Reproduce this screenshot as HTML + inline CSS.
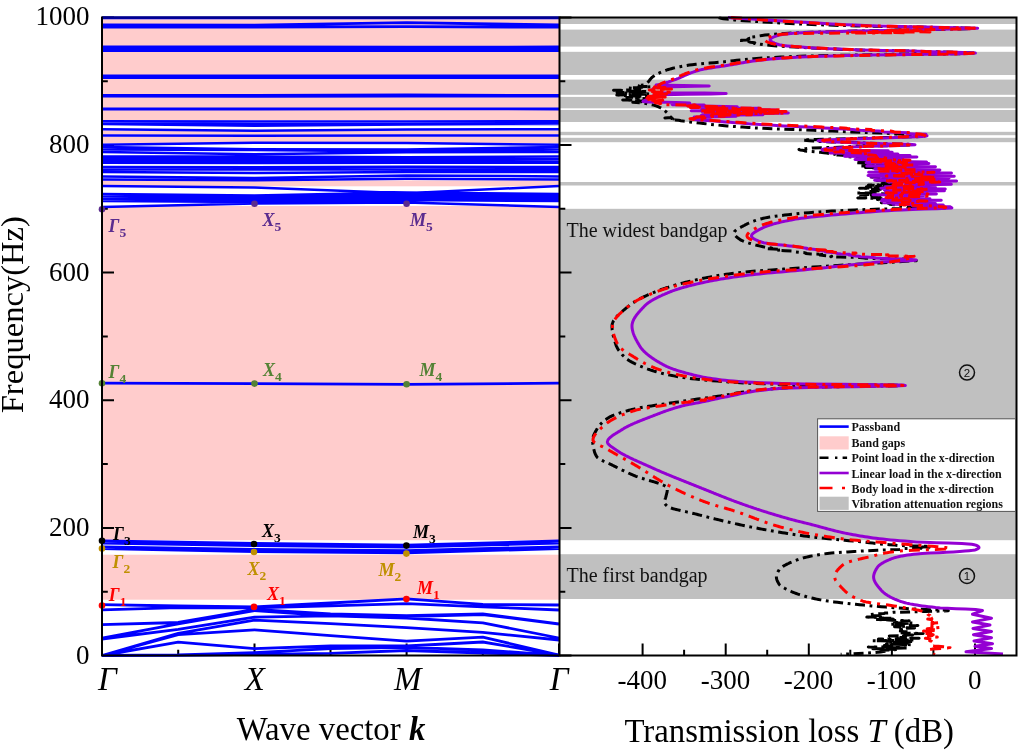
<!DOCTYPE html>
<html lang="en"><head><meta charset="utf-8"><title>Band structure and transmission loss</title>
<style>html,body{margin:0;padding:0;background:#fff}body{width:1025px;height:752px;overflow:hidden}svg{display:block}</style></head><body>
<svg width="1025" height="752" viewBox="0 0 1025 752">
<rect width="1025" height="752" fill="#fff"/>
<g id="left-panel">
<rect x="102" y="17.4" width="457.5" height="103.1" fill="#ffcccc"/>
<rect x="102" y="130.4" width="457.5" height="4.2" fill="#ffcccc"/>
<rect x="102" y="136.8" width="457.5" height="6.6" fill="#ffcccc"/>
<rect x="102" y="180.4" width="457.5" height="5.9" fill="#ffcccc"/>
<rect x="102" y="206" width="457.5" height="334.2" fill="#ffcccc"/>
<rect x="102" y="554.7" width="457.5" height="45" fill="#ffcccc"/>
<path id="ticks-left" d="M102 655.5 h12 M102 591.7 h5.8 M102 527.9 h12 M102 464.1 h5.8 M102 400.3 h12 M102 336.4 h5.8 M102 272.6 h12 M102 208.8 h5.8 M102 145 h12 M102 81.2 h5.8 M102 17.4 h12 M102 655.5 v-12 M178.2 655.5 v-5.8 M254.5 655.5 v-12 M330.5 655.5 v-5.8 M406.6 655.5 v-12 M482.8 655.5 v-5.8 M559 655.5 v-12" stroke="#000" stroke-width="2" fill="none"/>
<path d="M102 121.3 L254.5 121.4 L406.6 121.5 L559 121.3 M102 123.6 L254.5 124.3 L406.6 124.2 L559 123.6 M102 123.9 L254.5 125.8 L406.6 124.4 L559 123.9 M102 129.3 L254.5 130.8 L406.6 129.5 L559 129.3 M102 135.5 L254.5 135.7 L406.6 135.6 L559 135.5 M102 144.8 L254.5 142.8 L406.6 143 L559 144.8 M102 147 L254.5 149.2 L406.6 149.6 L559 147 M102 149.5 L254.5 150 L406.6 151.6 L559 149.5 M102 152 L254.5 154.3 L406.6 152.2 L559 152 M102 156.5 L254.5 156.5 L406.6 157.2 L559 156.5 M102 159 L254.5 159 L406.6 159.6 L559 159 M102 161.4 L254.5 161.5 L406.6 161.5 L559 161.4 M102 162.8 L254.5 162.9 L406.6 162.8 L559 162.8 M102 167.1 L254.5 167.2 L406.6 166.8 L559 167.1 M102 169.5 L254.5 169.6 L406.6 169.4 L559 169.5 M102 172 L254.5 173.1 L406.6 172 L559 172 M102 176.4 L254.5 178 L406.6 175.5 L559 176.4 M102 179.4 L254.5 180.3 L406.6 178.8 L559 179.4 M102 186 L254.5 187.6 L406.6 193.2 L559 186 M102 194 L254.5 195.5 L406.6 192.4 L559 194 M102 196.5 L254.5 197.8 L406.6 195 L559 196.5 M102 199 L254.5 200 L406.6 197.5 L559 199 M102 201 L254.5 202 L406.6 200 L559 201 M102 207 L254.5 203.4 L406.6 202.6 L559 207" fill="none" stroke="#0000ff" stroke-width="2.5" stroke-linejoin="round"/>
<path d="M102 17.8 L254.5 17.8 L406.6 17.8 L559 17.8 M102 25 L254.5 25.2 L406.6 22.6 L559 25 M102 27.2 L254.5 27 L406.6 26.6 L559 27.2 M102 47 L254.5 47 L406.6 47.2 L559 47 M102 48.9 L254.5 48.9 L406.6 48.9 L559 48.9 M102 50.7 L254.5 50.7 L406.6 50.5 L559 50.7 M102 75.8 L254.5 75.9 L406.6 76 L559 75.8 M102 77.7 L254.5 77.6 L406.6 77.5 L559 77.7 M102 95.5 L254.5 95.3 L406.6 95 L559 95.5 M102 96.2 L254.5 96.4 L406.6 96 L559 96.2 M102 109 L254.5 109 L406.6 108.8 L559 109 M102 383.2 L254.5 383.6 L406.6 384.3 L559 383.2 M102 541 L254.5 543.4 L406.6 545.2 L559 541 M102 543 L254.5 545.6 L406.6 547 L559 543 M102 546.8 L254.5 549.4 L406.6 550.6 L559 546.8 M102 548.6 L254.5 551.6 L406.6 552.8 L559 548.6 M102 604.7 L178.2 606 L254.5 607 L330.5 603 L406.6 598.8 L482.8 604.4 L559 605 M102 609.8 L178.2 607.6 L254.5 607.8 L330.5 605.8 L406.6 603.6 L482.8 606.8 L559 610 M102 624.6 L178.2 622.5 L254.5 609.5 L330.5 614 L406.6 615.6 L482.8 614 L559 623.8 M102 638.2 L178.2 623.8 L254.5 610.5 L330.5 615.8 L406.6 618 L482.8 622.8 L559 638 M102 639 L178.2 629.4 L254.5 617.2 L330.5 615.8 L406.6 616.5 L482.8 614.5 L559 624.2 M102 655.5 L178.2 633.4 L254.5 620.2 L330.5 623.6 L406.6 627.6 L482.8 632.4 L559 640 M102 655.5 L178.2 634.7 L254.5 629.8 L330.5 635.6 L406.6 641.2 L482.8 637.2 L559 655 M102 655.5 L178.2 642.2 L254.5 648.6 L330.5 646 L406.6 646 L482.8 642 L559 655 M102 655.5 L178.2 655 L254.5 652.6 L330.5 648.6 L406.6 647.4 L482.8 650 L559 655.3 M102 655.5 L178.2 655.4 L254.5 654.4 L330.5 653.4 L406.6 650.5 L482.8 653 L559 655.5" fill="none" stroke="#0000ff" stroke-width="2.8" stroke-linejoin="round"/>
<circle cx="102" cy="209.2" r="3.3" fill="#5b2c8f"/>
<circle cx="254.5" cy="203.8" r="3.3" fill="#5b2c8f"/>
<circle cx="406.6" cy="203.8" r="3.3" fill="#5b2c8f"/>
<circle cx="102" cy="383.2" r="3.3" fill="#548235"/>
<circle cx="254.5" cy="383.6" r="3.3" fill="#548235"/>
<circle cx="406.6" cy="384.3" r="3.3" fill="#548235"/>
<circle cx="102" cy="540.8" r="3.3" fill="#000000"/>
<circle cx="254" cy="544" r="3.3" fill="#000000"/>
<circle cx="406.4" cy="545.6" r="3.3" fill="#000000"/>
<circle cx="102" cy="548.6" r="3.3" fill="#bf9000"/>
<circle cx="254" cy="552" r="3.3" fill="#bf9000"/>
<circle cx="406.4" cy="553.6" r="3.3" fill="#bf9000"/>
<circle cx="102" cy="605.5" r="3.3" fill="#ff0000"/>
<circle cx="254" cy="606.9" r="3.3" fill="#ff0000"/>
<circle cx="406.4" cy="599.1" r="3.3" fill="#ff0000"/>
</g>
<g id="attenuation-regions">
<rect x="559.5" y="17" width="457" height="7" fill="#c0c0c0"/>
<rect x="559.5" y="29.6" width="457" height="17" fill="#c0c0c0"/>
<rect x="559.5" y="51.8" width="457" height="23.2" fill="#c0c0c0"/>
<rect x="559.5" y="79.6" width="457" height="15.2" fill="#c0c0c0"/>
<rect x="559.5" y="96.9" width="457" height="11.4" fill="#c0c0c0"/>
<rect x="559.5" y="110" width="457" height="12" fill="#c0c0c0"/>
<rect x="559.5" y="131.8" width="457" height="3.4" fill="#c0c0c0"/>
<rect x="559.5" y="137.8" width="457" height="4.4" fill="#c0c0c0"/>
<rect x="559.5" y="182" width="457" height="3.5" fill="#c0c0c0"/>
<rect x="559.5" y="208.8" width="457" height="331.4" fill="#c0c0c0"/>
<rect x="559.5" y="554.2" width="457" height="44.8" fill="#c0c0c0"/>
</g>
<path id="ticks-right" d="M559.5 655.5 h12 M559.5 591.7 h5.8 M559.5 527.9 h12 M559.5 464.1 h5.8 M559.5 400.3 h12 M559.5 336.4 h5.8 M559.5 272.6 h12 M559.5 208.8 h5.8 M559.5 145 h12 M559.5 81.2 h5.8 M559.5 17.4 h12 M642.6 655.5 v-12 M684.1 655.5 v-5.8 M725.7 655.5 v-12 M767.2 655.5 v-5.8 M808.8 655.5 v-12 M850.3 655.5 v-5.8 M891.9 655.5 v-12 M933.4 655.5 v-5.8 M975 655.5 v-12" stroke="#000" stroke-width="2" fill="none"/>
<g id="tl-curves" fill="none" stroke-linejoin="round">
<path d="M719 17.5 L719.6 17.9 L721.1 18.3 L723.3 18.7 L726.3 19.1 L730 19.5 L734.2 19.9 L739 20.3 L744.3 20.7 L750 21.1 L756.1 21.5 L762.5 21.9 L769.2 22.3 L776 22.7 L783 23.1 L790 23.5 L797.7 23.9 L806.9 24.3 L817.3 24.7 L829.1 25.1 L842.1 25.5 L856.3 25.9 L873.3 26.3 L895.2 26.7 L918.7 27.1 L940 27.5 L962.3 27.9 L975 28.3 L966.5 28.7 L948.7 29.1 L931.6 29.5 L912.4 29.9 L892.1 30.3 L872.7 30.7 L856.2 31.1 L840.9 31.5 L826.3 31.9 L812.8 32.3 L801.1 32.7 L791.9 33.1 L784.9 33.5 L778.8 33.9 L773.4 34.3 L768.8 34.7 L765 35.1 L762 35.5 L759.5 35.9 L757.2 36.3 L755.2 36.7 L751 37.1 L750.9 37.5 L751.9 37.9 L749.8 38.3 L748.5 38.7 L747.9 39.1 L747.5 39.5 L747.1 39.9 L738.1 40.3 L745.2 40.7 L748.2 41.1 L748.9 41.5 L749.2 41.9 L750.6 42.3 L754.8 42.7 L754.3 43.1 L754.2 43.5 L758.1 43.9 L760.6 44.3 L763.5 44.7 L767.2 45.1 L771.7 45.5 L776.8 45.9 L782.5 46.3 L788.5 46.7 L794.8 47.1 L801.5 47.5 L808.9 47.9 L816.9 48.3 L825.7 48.7 L835.2 49.1 L845.6 49.5 L857 49.9 L870.9 50.3 L889.4 50.7 L909 51.1 L926.4 51.5 L940.7 51.9 L955.4 52.3 L967.4 52.7 L973.7 53.1 L968.2 53.5 L948.2 53.9 L923.1 54.3 L885.2 54.7 L853.9 55.1 L831.8 55.5 L813.6 55.9 L800 56.3 L789.6 56.7 L780.5 57.1 L772.5 57.5 L765.6 57.9 L759.4 58.3 L753.8 58.7 L748.8 59.1 L744.3 59.5 L740.3 59.9 L736.8 60.3 L733.4 60.7 L730.1 61.1 L726.7 61.5 L723 61.9 L718.9 62.3 L714.3 62.7 L709.5 63.1 L704.7 63.5 L700.1 63.9 L695.9 64.3 L692.2 64.7 L689.3 65.1 L686.8 65.5 L684.4 65.9 L682.2 66.3 L680.1 66.7 L678.1 67.1 L676.2 67.5 L674.4 67.9 L672.7 68.3 L671.2 68.7 L669.7 69.1 L668.3 69.5 L667 69.9 L665.8 70.3 L664.7 70.7 L663.7 71.1 L662.6 71.5 L661.7 71.9 L660.7 72.3 L659.8 72.7 L659 73.1 L658.1 73.5 L657.4 73.9 L656.6 74.3 L655.9 74.7 L655.2 75.1 L654.6 75.5 L654 75.9 L653.4 76.3 L652.9 76.7 L652.4 77.1 L651.9 77.5 L651.5 77.9 L651.1 78.3 L650.8 78.7 L650.5 79.1 L650.1 79.5 L649.8 79.9 L649.5 80.3 L649.2 80.7 L648.9 81.1 L648.6 81.5 L648.2 81.9 L647.8 82.3 L647.4 82.7 L646.9 83.1 L646.3 83.5 L645.6 83.9 L644.8 84.3 L644.4 84.7 L643.5 85.1 L637 85.5 L638.9 85.9 L638.9 86.3 L651.1 86.7 L643.1 87.1 L640.4 87.5 L628.6 87.9 L633.7 88.3 L634.5 88.7 L639.8 89.1 L636.1 89.5 L634.7 89.9 L613.5 90.3 L626.2 90.7 L629 91.1 L647.8 91.5 L636.8 91.9 L633.9 92.3 L617 92.7 L626.3 93.1 L628.7 93.5 L649.9 93.9 L637.5 94.3 L634.6 94.7 L616.8 95.1 L627 95.5 L629.8 95.9 L654.2 96.3 L640.1 96.7 L636.8 97.1 L626.8 97.5 L631.7 97.9 L633.1 98.3 L648.4 98.7 L639.7 99.1 L637.9 99.5 L622.7 99.9 L632.2 100.3 L635.2 100.7 L646.3 101.1 L641.2 101.5 L640.6 101.9 L632.8 102.3 L639.6 102.7 L642.5 103.1 L645.9 103.5 L647.3 103.9 L649.5 104.3 L651.7 104.7 L653.6 105.1 L655 105.5 L656.1 105.9 L657.2 106.3 L658.1 106.7 L659 107.1 L659.9 107.5 L660.7 107.9 L661.4 108.3 L662.1 108.7 L662.7 109.1 L663.3 109.5 L663.9 109.9 L664.4 110.3 L664.9 110.7 L665.3 111.1 L665.8 111.5 L666.1 111.9 L666.5 112.3 L666.9 112.7 L667.3 113.1 L667.6 113.5 L668 113.9 L668.3 114.3 L668.7 114.7 L669.1 115.1 L669.5 115.5 L669.8 115.9 L670.1 116.3 L670.4 116.7 L670.7 117.1 L671.4 117.5 L664.9 117.9 L670.3 118.3 L672.7 118.7 L673.2 119.1 L671.6 119.5 L675.3 119.9 L678.8 120.3 L680.9 120.7 L683.3 121.1 L686.6 121.5 L689.9 121.9 L693.2 122.3 L696.5 122.7 L699.8 123.1 L703.2 123.5 L706.7 123.9 L710.3 124.3 L714.2 124.7 L718.2 125.1 L722.5 125.5 L727.1 125.9 L732 126.3 L737.1 126.7 L742.6 127.1 L748.5 127.5 L755.1 127.9 L763.1 128.3 L772.3 128.7 L782.3 129.1 L792.8 129.5 L803.3 129.9 L813.6 130.3 L823.3 130.7 L832.1 131.1 L841.2 131.5 L850.9 131.9 L861 132.3 L871.2 132.7 L881.2 133.1 L890.7 133.5 L899.6 133.9 L907.6 134.3 L914.4 134.7 L919.7 135.1 L923.3 135.5 L924.9 135.9 L923 136.3 L914.9 136.7 L902.6 137.1 L888 137.5 L873.2 137.9 L860 138.3 L846.2 138.7 L830.4 139.1 L815.9 139.5 L805.4 139.9 L803 140.3 L809.8 140.7 L813.9 141.1 L820.7 141.5 L831.7 141.9 L849.4 142.3 L854.3 142.7 L864.7 143.1 L881.5 143.5 L897.1 143.9 L908.5 144.3 L911.9 144.7 L907.1 145.1 L895.4 145.5 L876.5 145.9 L855.8 146.3 L846.7 146.7 L844.6 147.1 L829.4 147.5 L812.3 147.9 L808.6 148.3 L805.6 148.7 L800.4 149.1 L799 149.5 L800 149.9 L802.5 150.3 L805.1 150.7 L804.8 151.1 L812 151.5 L816.4 151.9 L820.3 152.3 L823.9 152.7 L826.6 153.1 L829.3 153.5 L832.1 153.9 L834.8 154.3 L832.6 154.7 L838.6 155.1 L845.3 155.5 L845.8 155.9 L844.7 156.3 L848.9 156.7 L853.9 157.1 L854.3 157.5 L854.6 157.9 L857 158.3 L860.3 158.7 L860.8 159.1 L861.6 159.5 L863.2 159.9 L874.8 160.3 L868.6 160.7 L858 161.1 L866 161.5 L871 161.9 L871 162.3 L856 162.7 L868.8 163.1 L876.1 163.5 L875.3 163.9 L874.6 164.3 L876.4 164.7 L885.5 165.1 L880.5 165.5 L859.9 165.9 L875.4 166.3 L881.4 166.7 L882 167.1 L865.4 167.5 L879.2 167.9 L886.5 168.3 L885.5 168.7 L883.9 169.1 L885.8 169.5 L886.9 169.9 L887.3 170.3 L882 170.7 L886.7 171.1 L898.3 171.5 L891.3 171.9 L879.1 172.3 L887.1 172.7 L901.7 173.1 L893.3 173.5 L886.5 173.9 L889.9 174.3 L895.1 174.7 L892.4 175.1 L886.7 175.5 L890.6 175.9 L905.6 176.3 L895.4 176.7 L871.4 177.1 L886.8 177.5 L896.1 177.9 L892.8 178.3 L882.7 178.7 L889 179.1 L894.8 179.5 L891.6 179.9 L874.3 180.3 L885.8 180.7 L889.8 181.1 L889.1 181.5 L887.4 181.9 L887.8 182.3 L892.7 182.7 L888.4 183.1 L881.9 183.5 L884.9 183.9 L897.2 184.3 L887.9 184.7 L868.4 185.1 L879.4 185.5 L889.6 185.9 L883.2 186.3 L866.4 186.7 L875.9 187.1 L887.7 187.5 L879.6 187.9 L859.5 188.3 L871.2 188.7 L887.4 189.1 L877 189.5 L870.4 189.9 L871.9 190.3 L880.6 190.7 L874.1 191.1 L869.4 191.5 L871.5 191.9 L878 192.3 L874 192.7 L856 193.1 L869.1 193.5 L886.2 193.9 L877.4 194.3 L858.6 194.7 L871.3 195.1 L876.3 195.5 L876.6 195.9 L869.9 196.3 L875.8 196.7 L880 197.1 L879.1 197.5 L857.8 197.9 L874.5 198.3 L881.6 198.7 L881 199.1 L877.5 199.5 L880.9 199.9 L885.5 200.3 L883.7 200.7 L883.1 201.1 L884.3 201.5 L891.7 201.9 L887.7 202.3 L881.3 202.7 L887 203.1 L890.2 203.5 L891.1 203.9 L889.9 204.3 L894.1 204.7 L897.3 205.1 L900.1 205.5 L902.5 205.9 L907.6 206.3 L914.7 206.7 L932.3 207.1 L948.3 207.5 L946 207.9 L919 208.3 L895.8 208.7 L879.9 209.1 L866.2 209.5 L855.2 209.9 L846.8 210.3 L839.1 210.7 L832 211.1 L825.5 211.5 L819.5 211.9 L814 212.3 L808.9 212.7 L804.2 213.1 L799.8 213.5 L795.7 213.9 L791.9 214.3 L788.2 214.7 L784.7 215.1 L781.3 215.5 L778.1 215.9 L775.1 216.3 L772.3 216.7 L769.7 217.1 L767.3 217.5 L765.2 217.9 L763.3 218.3 L761.7 218.7 L760.2 219.1 L758.8 219.5 L757.4 219.9 L756.1 220.3 L754.9 220.7 L753.7 221.1 L752.6 221.5 L751.6 221.9 L750.6 222.3 L749.7 222.7 L748.8 223.1 L747.9 223.5 L747.1 223.9 L746.3 224.3 L745.6 224.7 L744.8 225.1 L744.1 225.5 L743.3 225.9 L742.5 226.3 L741.8 226.7 L741 227.1 L740.3 227.5 L739.5 227.9 L738.8 228.3 L738.1 228.7 L737.5 229.1 L736.9 229.5 L736.3 229.9 L735.8 230.3 L735.3 230.7 L734.9 231.1 L734.6 231.5 L734.3 231.9 L734.1 232.3 L734 232.7 L734 233.1 L734.1 233.5 L734.2 233.9 L734.3 234.3 L734.6 234.7 L734.8 235.1 L735.1 235.5 L735.5 235.9 L735.9 236.3 L736.3 236.7 L736.8 237.1 L737.3 237.5 L737.8 237.9 L738.3 238.3 L738.9 238.7 L739.4 239.1 L740 239.5 L740.6 239.9 L741.4 240.3 L742.2 240.7 L743.2 241.1 L744.2 241.5 L745.3 241.9 L746.5 242.3 L747.7 242.7 L749 243.1 L750.3 243.5 L751.7 243.9 L753 244.3 L754.5 244.7 L756 245.1 L757.6 245.5 L759.3 245.9 L761.1 246.3 L762.9 246.7 L764.7 247.1 L766.8 247.5 L771.6 247.9 L771.9 248.3 L767.4 248.7 L774 249.1 L780.1 249.5 L781.2 249.9 L777.1 250.3 L784.9 250.7 L791.9 251.1 L793.4 251.5 L795.3 251.9 L799.1 252.3 L804.6 252.7 L806.3 253.1 L805.6 253.5 L811 253.9 L823.5 254.3 L819.8 254.7 L820.1 255.1 L823.8 255.5 L827.9 255.9 L831.7 256.3 L830.8 256.7 L840.2 257.1 L859.7 257.5 L864.7 257.9 L865.5 258.3 L887.2 258.7 L908.2 259.1 L912.7 259.5 L915.6 259.9 L915.4 260.3 L916.3 260.7 L909.4 261.1 L902.3 261.5 L897 261.9 L889.9 262.3 L882.5 262.7 L875.1 263.1 L868 263.5 L861.5 263.9 L855.6 264.3 L849.7 264.7 L843.6 265.1 L837.5 265.5 L831.4 265.9 L825.2 266.3 L819.1 266.7 L813.1 267.1 L807.2 267.5 L801.4 267.9 L795.7 268.3 L789.8 268.7 L783.9 269.1 L777.9 269.5 L772 269.9 L766.2 270.3 L760.6 270.7 L755.3 271.1 L750.3 271.5 L745.8 271.9 L741.8 272.3 L738.3 272.7 L735 273.1 L731.9 273.5 L728.9 273.9 L726.1 274.3 L723.4 274.7 L720.8 275.1 L718.3 275.5 L715.9 275.9 L713.6 276.3 L711.4 276.7 L709.3 277.1 L707.3 277.5 L705.3 277.9 L703.3 278.3 L701.4 278.7 L699.5 279.1 L697.7 279.5 L695.9 279.9 L694.1 280.3 L692.3 280.7 L690.6 281.1 L688.9 281.5 L687.2 281.9 L685.6 282.3 L684 282.7 L682.4 283.1 L680.9 283.5 L679.4 283.9 L677.9 284.3 L676.5 284.7 L675 285.1 L673.6 285.5 L672.3 285.9 L670.9 286.3 L669.6 286.7 L668.4 287.1 L667.1 287.5 L665.9 287.9 L664.7 288.3 L663.6 288.7 L662.4 289.1 L661.3 289.5 L660.3 289.9 L659.2 290.3 L658.2 290.7 L657.2 291.1 L656.1 291.5 L655.1 291.9 L654.1 292.3 L653.2 292.7 L652.2 293.1 L651.2 293.5 L650.3 293.9 L649.4 294.3 L648.4 294.7 L647.5 295.1 L646.6 295.5 L645.8 295.9 L644.9 296.3 L644 296.7 L643.2 297.1 L642.4 297.5 L641.6 297.9 L640.8 298.3 L640 298.7 L639.2 299.1 L638.5 299.5 L637.8 299.9 L637.1 300.3 L636.4 300.7 L635.7 301.1 L635 301.5 L634.4 301.9 L633.8 302.3 L633.1 302.7 L632.5 303.1 L632 303.5 L631.4 303.9 L630.9 304.3 L630.4 304.7 L629.9 305.1 L629.4 305.5 L628.9 305.9 L628.4 306.3 L627.9 306.7 L627.4 307.1 L626.9 307.5 L626.4 307.9 L625.9 308.3 L625.4 308.7 L625 309.1 L624.5 309.5 L624 309.9 L623.5 310.3 L623 310.7 L622.6 311.1 L622.1 311.5 L621.6 311.9 L621.2 312.3 L620.7 312.7 L620.3 313.1 L619.8 313.5 L619.4 313.9 L619 314.3 L618.6 314.7 L618.2 315.1 L617.8 315.5 L617.4 315.9 L617 316.3 L616.6 316.7 L616.3 317.1 L615.9 317.5 L615.6 317.9 L615.3 318.3 L615 318.7 L614.7 319.1 L614.4 319.5 L614.1 319.9 L613.9 320.3 L613.6 320.7 L613.4 321.1 L613.2 321.5 L613 321.9 L612.8 322.3 L612.7 322.7 L612.5 323.1 L612.4 323.5 L612.3 323.9 L612.2 324.3 L612.1 324.7 L612.1 325.1 L612 325.5 L612 325.9 L612 326.3 L612 326.7 L612 327.1 L612 327.5 L612.1 327.9 L612.1 328.3 L612.1 328.7 L612.1 329.1 L612.2 329.5 L612.2 329.9 L612.3 330.3 L612.3 330.7 L612.4 331.1 L612.4 331.5 L612.5 331.9 L612.6 332.3 L612.6 332.7 L612.7 333.1 L612.8 333.5 L612.8 333.9 L612.9 334.3 L613 334.7 L613.1 335.1 L613.2 335.5 L613.3 335.9 L613.4 336.3 L613.5 336.7 L613.6 337.1 L613.7 337.5 L613.8 337.9 L613.9 338.3 L614 338.7 L614.1 339.1 L614.2 339.5 L614.4 339.9 L614.5 340.3 L614.6 340.7 L614.7 341.1 L614.9 341.5 L615 341.9 L615.1 342.3 L615.2 342.7 L615.4 343.1 L615.5 343.5 L615.6 343.9 L615.8 344.3 L615.9 344.7 L616 345.1 L616.2 345.5 L616.3 345.9 L616.5 346.3 L616.7 346.7 L616.9 347.1 L617.1 347.5 L617.3 347.9 L617.5 348.3 L617.7 348.7 L617.9 349.1 L618.2 349.5 L618.4 349.9 L618.7 350.3 L619 350.7 L619.3 351.1 L619.6 351.5 L619.9 351.9 L620.2 352.3 L620.5 352.7 L620.8 353.1 L621.2 353.5 L621.5 353.9 L621.9 354.3 L622.2 354.7 L622.6 355.1 L623 355.5 L623.4 355.9 L623.8 356.3 L624.2 356.7 L624.6 357.1 L625 357.5 L625.4 357.9 L625.9 358.3 L626.4 358.7 L626.9 359.1 L627.5 359.5 L628.1 359.9 L628.7 360.3 L629.3 360.7 L630 361.1 L630.7 361.5 L631.4 361.9 L632.1 362.3 L632.9 362.7 L633.7 363.1 L634.5 363.5 L635.3 363.9 L636.2 364.3 L637.1 364.7 L638 365.1 L638.9 365.5 L639.8 365.9 L640.8 366.3 L641.7 366.7 L642.7 367.1 L643.7 367.5 L644.7 367.9 L645.8 368.3 L646.8 368.7 L647.9 369.1 L649.1 369.5 L650.2 369.9 L651.4 370.3 L652.7 370.7 L653.9 371.1 L655.3 371.5 L656.7 371.9 L658.1 372.3 L659.6 372.7 L661.1 373.1 L662.7 373.5 L664.4 373.9 L666.2 374.3 L668 374.7 L669.9 375.1 L671.9 375.5 L673.9 375.9 L676 376.3 L678.3 376.7 L680.6 377.1 L683.1 377.5 L685.8 377.9 L688.8 378.3 L692.1 378.7 L695.6 379.1 L699.4 379.5 L703.5 379.9 L707.9 380.3 L712.5 380.7 L717.5 381.1 L722.9 381.5 L728.5 381.9 L734.3 382.3 L740.2 382.7 L747 383.1 L755.5 383.5 L766.6 383.9 L781.2 384.3 L813.4 384.7 L889.6 385.1 L903.8 385.5 L888.4 385.9 L863.4 386.3 L834.9 386.7 L809.1 387.1 L792.2 387.5 L785.2 387.9 L779.2 388.3 L773.8 388.7 L768.8 389.1 L764.3 389.5 L760.1 389.9 L756.3 390.3 L752.8 390.7 L749.6 391.1 L746.7 391.5 L743.9 391.9 L741.4 392.3 L739 392.7 L736.7 393.1 L734.4 393.5 L732.2 393.9 L730 394.3 L727.8 394.7 L725.5 395.1 L723.1 395.5 L720.5 395.9 L717.8 396.3 L714.8 396.7 L711.9 397.1 L708.9 397.5 L706 397.9 L703.1 398.3 L700.2 398.7 L697.4 399.1 L694.6 399.5 L691.8 399.9 L689.1 400.3 L686.3 400.7 L683.6 401.1 L680.9 401.5 L678.3 401.9 L675.6 402.3 L673 402.7 L670.3 403.1 L667.7 403.5 L665 403.9 L662.2 404.3 L659.5 404.7 L656.7 405.1 L654 405.5 L651.3 405.9 L648.7 406.3 L646.1 406.7 L643.7 407.1 L641.3 407.5 L639.2 407.9 L637.1 408.3 L635.3 408.7 L633.6 409.1 L632 409.5 L630.5 409.9 L628.9 410.3 L627.5 410.7 L626 411.1 L624.6 411.5 L623.2 411.9 L621.9 412.3 L620.6 412.7 L619.4 413.1 L618.2 413.5 L617 413.9 L615.9 414.3 L614.8 414.7 L613.8 415.1 L612.9 415.5 L611.9 415.9 L611.1 416.3 L610.3 416.7 L609.5 417.1 L608.8 417.5 L608.2 417.9 L607.6 418.3 L607 418.7 L606.4 419.1 L605.9 419.5 L605.3 419.9 L604.8 420.3 L604.3 420.7 L603.8 421.1 L603.3 421.5 L602.9 421.9 L602.4 422.3 L602 422.7 L601.6 423.1 L601.2 423.5 L600.8 423.9 L600.5 424.3 L600.1 424.7 L599.7 425.1 L599.4 425.5 L599.1 425.9 L598.8 426.3 L598.5 426.7 L598.2 427.1 L597.9 427.5 L597.7 427.9 L597.4 428.3 L597.2 428.7 L596.9 429.1 L596.7 429.5 L596.5 429.9 L596.3 430.3 L596 430.7 L595.8 431.1 L595.6 431.5 L595.3 431.9 L595.1 432.3 L594.9 432.7 L594.7 433.1 L594.5 433.5 L594.3 433.9 L594.1 434.3 L593.9 434.7 L593.7 435.1 L593.6 435.5 L593.4 435.9 L593.3 436.3 L593.2 436.7 L593 437.1 L592.9 437.5 L592.8 437.9 L592.8 438.3 L592.7 438.7 L592.6 439.1 L592.6 439.5 L592.6 439.9 L592.6 440.3 L592.6 440.7 L592.6 441.1 L592.6 441.5 L592.7 441.9 L592.7 442.3 L592.7 442.7 L592.8 443.1 L592.8 443.5 L592.9 443.9 L592.9 444.3 L593 444.7 L593 445.1 L593.1 445.5 L593.2 445.9 L593.2 446.3 L593.3 446.7 L593.4 447.1 L593.5 447.5 L593.6 447.9 L593.6 448.3 L593.7 448.7 L593.8 449.1 L593.9 449.5 L594 449.9 L594.1 450.3 L594.2 450.7 L594.3 451.1 L594.4 451.5 L594.5 451.9 L594.6 452.3 L594.8 452.7 L594.9 453.1 L595.1 453.5 L595.3 453.9 L595.4 454.3 L595.6 454.7 L595.8 455.1 L596.1 455.5 L596.3 455.9 L596.5 456.3 L596.8 456.7 L597.1 457.1 L597.4 457.5 L597.8 457.9 L598.3 458.3 L598.9 458.7 L599.5 459.1 L600.2 459.5 L601 459.9 L601.8 460.3 L602.6 460.7 L603.4 461.1 L604.3 461.5 L605.2 461.9 L606.1 462.3 L607 462.7 L607.9 463.1 L608.8 463.5 L609.7 463.9 L610.6 464.3 L611.4 464.7 L612.2 465.1 L613 465.5 L613.8 465.9 L614.6 466.3 L615.4 466.7 L616.2 467.1 L617 467.5 L617.8 467.9 L618.6 468.3 L619.4 468.7 L620.2 469.1 L621 469.5 L621.8 469.9 L622.7 470.3 L623.5 470.7 L624.3 471.1 L625.2 471.5 L626 471.9 L626.9 472.3 L627.8 472.7 L628.6 473.1 L629.5 473.5 L630.4 473.9 L631.3 474.3 L632.2 474.7 L633.1 475.1 L634 475.5 L635 475.9 L636 476.3 L637.1 476.7 L638.2 477.1 L639.4 477.5 L640.7 477.9 L641.9 478.3 L643.3 478.7 L644.6 479.1 L645.9 479.5 L647.3 479.9 L648.7 480.3 L650.1 480.7 L651.4 481.1 L652.8 481.5 L654.1 481.9 L655.4 482.3 L656.7 482.7 L657.9 483.1 L659.1 483.5 L660.2 483.9 L661.3 484.3 L662.3 484.7 L663.3 485.1 L664.1 485.5 L664.9 485.9 L665.6 486.3 L666.2 486.7 L666.6 487.1 L667 487.5 L667.3 487.9 L667.4 488.3 L667.4 488.7 L667.4 489.1 L667.4 489.5 L667.3 489.9 L667.3 490.3 L667.2 490.7 L667.2 491.1 L667.1 491.5 L667.1 491.9 L667 492.3 L666.9 492.7 L666.8 493.1 L666.7 493.5 L666.6 493.9 L666.5 494.3 L666.4 494.7 L666.3 495.1 L666.2 495.5 L666.1 495.9 L666 496.3 L665.9 496.7 L665.8 497.1 L665.7 497.5 L665.6 497.9 L665.4 498.3 L665.3 498.7 L665.1 499.1 L664.9 499.5 L664.8 499.9 L664.6 500.3 L664.4 500.7 L664.3 501.1 L664.2 501.5 L664.2 501.9 L664.2 502.3 L664.3 502.7 L664.5 503.1 L664.7 503.5 L665 503.9 L665.3 504.3 L665.7 504.7 L666.1 505.1 L666.5 505.5 L666.9 505.9 L667.4 506.3 L668 506.7 L668.7 507.1 L669.6 507.5 L670.7 507.9 L671.9 508.3 L673.2 508.7 L674.7 509.1 L676.2 509.5 L677.8 509.9 L679.5 510.3 L681.2 510.7 L683 511.1 L684.8 511.5 L686.6 511.9 L688.4 512.3 L690.2 512.7 L691.9 513.1 L693.6 513.5 L695.2 513.9 L696.8 514.3 L698.3 514.7 L699.9 515.1 L701.5 515.5 L703 515.9 L704.6 516.3 L706.2 516.7 L707.7 517.1 L709.3 517.5 L710.9 517.9 L712.5 518.3 L714.1 518.7 L715.7 519.1 L717.4 519.5 L719 519.9 L720.6 520.3 L722.3 520.7 L724 521.1 L725.7 521.5 L727.4 521.9 L729.1 522.3 L730.8 522.7 L732.6 523.1 L734.4 523.5 L736.2 523.9 L738 524.3 L739.9 524.7 L741.7 525.1 L743.6 525.5 L745.6 525.9 L747.5 526.3 L749.5 526.7 L751.5 527.1 L753.5 527.5 L755.6 527.9 L757.6 528.3 L759.7 528.7 L761.8 529.1 L764 529.5 L766.1 529.9 L768.3 530.3 L770.6 530.7 L772.8 531.1 L775.2 531.5 L777.5 531.9 L779.9 532.3 L782.4 532.7 L784.9 533.1 L787.4 533.5 L790 533.9 L792.7 534.3 L795.4 534.7 L798.2 535.1 L801.1 535.5 L804 535.9 L807 536.3 L810.1 536.7 L813.5 537.1 L817 537.5 L820.6 537.9 L824.4 538.3 L828.3 538.7 L832.3 539.1 L836.4 539.5 L840.5 539.9 L844.7 540.3 L848.9 540.7 L853.1 541.1 L857.3 541.5 L861.5 541.9 L865.5 542.3 L869.2 542.7 L872.8 543.1 L876.5 543.5 L880.4 543.9 L884.6 544.3 L889.4 544.7 L894.9 545.1 L898.3 545.5 L913.3 545.9 L927.2 546.3 L931 546.7 L922 547.1 L924.1 547.5 L928.7 547.9 L917.3 548.3 L901.7 548.7 L901 549.1 L899.8 549.5 L887.3 549.9 L877.6 550.3 L868.3 550.7 L860.8 551.1 L854.2 551.5 L847.8 551.9 L841.8 552.3 L836.3 552.7 L831.5 553.1 L827.4 553.5 L824.3 553.9 L821.6 554.3 L819 554.7 L816.6 555.1 L814.3 555.5 L812.2 555.9 L810.2 556.3 L808.3 556.7 L806.6 557.1 L804.9 557.5 L803.4 557.9 L802 558.3 L800.6 558.7 L799.3 559.1 L798.2 559.5 L797 559.9 L796 560.3 L794.9 560.7 L793.9 561.1 L792.9 561.5 L792 561.9 L791 562.3 L790.1 562.7 L789.2 563.1 L788.4 563.5 L787.5 563.9 L786.7 564.3 L785.9 564.7 L785.2 565.1 L784.4 565.5 L783.8 565.9 L783.1 566.3 L782.5 566.7 L781.9 567.1 L781.4 567.5 L780.9 567.9 L780.4 568.3 L780 568.7 L779.7 569.1 L779.3 569.5 L779.1 569.9 L778.8 570.3 L778.6 570.7 L778.4 571.1 L778.1 571.5 L777.9 571.9 L777.7 572.3 L777.5 572.7 L777.4 573.1 L777.2 573.5 L777 573.9 L776.9 574.3 L776.8 574.7 L776.6 575.1 L776.6 575.5 L776.5 575.9 L776.4 576.3 L776.4 576.7 L776.4 577.1 L776.4 577.5 L776.5 577.9 L776.5 578.3 L776.6 578.7 L776.7 579.1 L776.8 579.5 L776.9 579.9 L777.1 580.3 L777.3 580.7 L777.4 581.1 L777.6 581.5 L777.8 581.9 L778 582.3 L778.2 582.7 L778.5 583.1 L778.7 583.5 L778.9 583.9 L779.2 584.3 L779.5 584.7 L779.9 585.1 L780.4 585.5 L780.9 585.9 L781.4 586.3 L782 586.7 L782.6 587.1 L783.3 587.5 L784 587.9 L784.7 588.3 L785.5 588.7 L786.2 589.1 L787 589.5 L787.8 589.9 L788.6 590.3 L789.4 590.7 L790.3 591.1 L791.2 591.5 L792.1 591.9 L793.1 592.3 L794.1 592.7 L795.2 593.1 L796.3 593.5 L797.4 593.9 L798.6 594.3 L799.8 594.7 L801.1 595.1 L802.4 595.5 L803.7 595.9 L805.1 596.3 L806.6 596.7 L808.1 597.1 L809.7 597.5 L811.3 597.9 L813 598.3 L814.8 598.7 L816.6 599.1 L818.5 599.5 L820.6 599.9 L822.9 600.3 L825.4 600.7 L828.1 601.1 L831 601.5 L834.1 601.9 L837.4 602.3 L840.8 602.7 L844.3 603.1 L847.9 603.5 L851.7 603.9 L855.6 604.3 L859.5 604.7 L863.5 605.1 L867.6 605.5 L871.9 605.9 L876.4 606.3 L881.1 606.7 L886 607.1 L891.3 607.5 L896.9 607.9 L902.9 608.3 L909.3 608.7 L916.2 609.1 L925.5 609.5 L938.3 609.9 L948.1 610.3 L948.3 610.7 L939.4 611.1 L926.2 611.5 L912.7 611.9 L893.3 612.3 L890.9 612.7 L884.8 613.1 L884.1 613.5 L876.7 613.9 L873.2 614.3 L868.9 614.7 L871.6 615.1 L873.2 615.5 L883 615.9 L879.7 616.3 L880.5 616.7 L866.8 617.1 L878.9 617.5 L883.7 617.9 L893.7 618.3 L892.3 618.7 L893.2 619.1 L875.1 619.5 L888.6 619.9 L892.4 620.3 L909.2 620.7 L901.1 621.1 L899.4 621.5 L891.7 621.9 L896.2 622.3 L897.7 622.7 L912.8 623.1 L904.1 623.5 L902.3 623.9 L890.5 624.3 L897.4 624.7 L899.4 625.1 L917.9 625.5 L907.2 625.9 L904.7 626.3 L894.5 626.7 L900.2 627.1 L901.7 627.5 L914.6 627.9 L906.3 628.3 L904.6 628.7 L900.6 629.1 L903.4 629.5 L904.1 629.9 L904.4 630.3 L904.9 630.7 L900.3 631.1 L903.3 631.5 L909.8 631.9 L906.8 632.3 L900.4 632.7 L904.2 633.1 L923.2 633.5 L910.8 633.9 L903.1 634.3 L905.3 634.7 L912.5 635.1 L907.5 635.5 L889.3 635.9 L901.3 636.3 L905.7 636.7 L904.8 637.1 L899.5 637.5 L902.5 637.9 L919.1 638.3 L906.5 638.7 L878.4 639.1 L895.4 639.5 L913.4 639.9 L903.3 640.3 L872.5 640.7 L892.2 641.1 L913.6 641.5 L901.9 641.9 L888.8 642.3 L895.2 642.7 L910 643.1 L900.1 643.5 L886.4 643.9 L893.9 644.3 L911.2 644.7 L899.7 645.1 L884.2 645.5 L892.6 645.9 L898.3 646.3 L895.7 646.7 L868.3 647.1 L887.6 647.5 L907.6 647.9 L896.7 648.3 L872.8 648.7 L887.6 649.1 L898.5 649.5 L891.4 649.9 L878.1 650.3 L884.9 650.7 L887.1 651.1 L883.2 651.5 L880.6 651.9 L877.5 652.3 L872.6 652.7 L866.1 653.1 L858.4 653.5 L849.8 653.9 L840.7 654.3" stroke="#000" stroke-width="3" stroke-dasharray="10 4.6 2.8 4.6"/>
<path d="M728 17.5 L733.9 17.9 L740 18.3 L746.1 18.7 L752.4 19.1 L758.7 19.5 L765.1 19.9 L771.6 20.3 L778.2 20.7 L784.8 21.1 L791.5 21.5 L798.3 21.9 L805 22.3 L811.4 22.7 L817.8 23.1 L824.2 23.5 L831 23.9 L838.2 24.3 L846.2 24.7 L855.1 25.1 L865.4 25.5 L878.4 25.9 L893.5 26.3 L909.8 26.7 L925.7 27.1 L944.8 27.5 L969.3 27.9 L977.7 28.3 L967.1 28.7 L949.4 29.1 L930.6 29.5 L911.8 29.9 L891.7 30.3 L872.7 30.7 L856.1 31.1 L840 31.5 L824.5 31.9 L811.3 32.3 L801.7 32.7 L795.8 33.1 L790.8 33.5 L786.6 33.9 L783.3 34.3 L780.8 34.7 L779.2 35.1 L777.8 35.5 L776.6 35.9 L775.4 36.3 L774.4 36.7 L773.4 37.1 L772.6 37.5 L771.8 37.9 L771.2 38.3 L770.8 38.7 L770.4 39.1 L770.2 39.5 L770.2 39.9 L770.3 40.3 L770.5 40.7 L770.9 41.1 L771.4 41.5 L772 41.9 L772.7 42.3 L773.6 42.7 L774.5 43.1 L775.5 43.5 L776.7 43.9 L777.9 44.3 L779.2 44.7 L780.9 45.1 L783.6 45.5 L787.2 45.9 L791.5 46.3 L796.3 46.7 L801.3 47.1 L807 47.5 L813.7 47.9 L821.2 48.3 L829.7 48.7 L838.9 49.1 L849.1 49.5 L860 49.9 L874 50.3 L891.6 50.7 L910 51.1 L926.5 51.5 L940.9 51.9 L956 52.3 L968.7 52.7 L975.4 53.1 L969.3 53.5 L948 53.9 L924 54.3 L893.7 54.7 L865.1 55.1 L847.1 55.5 L832 55.9 L819.2 56.3 L808.6 56.7 L800 57.1 L792.8 57.5 L786.4 57.9 L780.6 58.3 L775.4 58.7 L770.7 59.1 L766.5 59.5 L762.7 59.9 L759.1 60.3 L755.9 60.7 L752.9 61.1 L750.2 61.5 L747.6 61.9 L745.2 62.3 L742.9 62.7 L740.7 63.1 L738.5 63.5 L736.3 63.9 L734.1 64.3 L731.8 64.7 L729.4 65.1 L726.9 65.5 L724.2 65.9 L721.6 66.3 L718.9 66.7 L716.2 67.1 L713.5 67.5 L711 67.9 L708.5 68.3 L706.2 68.7 L704 69.1 L702.1 69.5 L700.4 69.9 L698.9 70.3 L697.5 70.7 L696.1 71.1 L694.9 71.5 L693.7 71.9 L692.5 72.3 L691.4 72.7 L690.4 73.1 L689.4 73.5 L688.4 73.9 L687.5 74.3 L686.6 74.7 L685.7 75.1 L684.8 75.5 L683.9 75.9 L683 76.3 L682.2 76.7 L681.3 77.1 L680.4 77.5 L679.4 77.9 L678.5 78.3 L677.5 78.7 L676.5 79.1 L675.4 79.5 L674.3 79.9 L673.1 80.3 L672 80.7 L670.9 81.1 L669.7 81.5 L668.6 81.9 L667.4 82.3 L666.1 82.7 L664.8 83.1 L663.4 83.5 L662 83.9 L660.4 84.3 L658.3 84.7 L656.1 85.1 L683 85.5 L709.2 85.9 L694.6 86.3 L672.3 86.7 L657 87.1 L655.2 87.5 L654.4 87.9 L653.7 88.3 L653.2 88.7 L652.8 89.1 L652.6 89.5 L652.5 89.9 L652.5 90.3 L652.6 90.7 L652.8 91.1 L653.2 91.5 L653.7 91.9 L654.4 92.3 L658.3 92.7 L704.4 93.1 L726.2 93.5 L711 93.9 L685.9 94.3 L663.4 94.7 L655.6 95.1 L654.1 95.5 L652.9 95.9 L652 96.3 L651.2 96.7 L650.6 97.1 L650.1 97.5 L649.6 97.9 L649.1 98.3 L648.5 98.7 L647.8 99.1 L646.9 99.5 L645.9 99.9 L644.9 100.3 L644 100.7 L643.3 101.1 L643 101.5 L648.5 101.9 L666.5 102.3 L684.5 102.7 L689.7 103.1 L684.1 103.5 L676.1 103.9 L672 104.3 L672.2 104.7 L704.3 105.1 L696.3 105.5 L688.2 105.9 L712.8 106.3 L737.3 106.7 L720.8 107.1 L704.3 107.5 L731.7 107.9 L759.2 108.3 L730.4 108.7 L701.7 109.1 L739.1 109.5 L776.5 109.9 L733.8 110.3 L691.2 110.7 L738.2 111.1 L785.2 111.5 L743.7 111.9 L702.3 112.3 L745.3 112.7 L788.3 113.1 L750.3 113.5 L712.4 113.9 L737.7 114.3 L763 114.7 L732 115.1 L701.1 115.5 L718.6 115.9 L736.2 116.3 L715.2 116.7 L694.1 117.1 L702.1 117.5 L710.1 117.9 L701.1 118.3 L692 118.7 L692.6 119.1 L695.1 119.5 L699.1 119.9 L704 120.3 L709.5 120.7 L715 121.1 L720 121.5 L724.7 121.9 L729.7 122.3 L734.8 122.7 L740 123.1 L745.5 123.5 L751.1 123.9 L757 124.3 L763.1 124.7 L769.7 125.1 L776.7 125.5 L784.1 125.9 L791.8 126.3 L799.9 126.7 L806.9 127.1 L815 127.5 L823.4 127.9 L830.4 128.3 L837.3 128.7 L843.9 129.1 L852.7 129.5 L856.6 129.9 L860.2 130.3 L867.9 130.7 L878.8 131.1 L882.2 131.5 L884.1 131.9 L892.8 132.3 L908.3 132.7 L907.2 133.1 L906.5 133.5 L913.8 133.9 L926 134.3 L923.4 134.7 L923.8 135.1 L926.1 135.5 L927 135.9 L925.3 136.3 L918.7 136.7 L908.5 137.1 L896.4 137.5 L883.8 137.9 L872.5 138.3 L862.1 138.7 L849.8 139.1 L837.5 139.5 L826.8 139.9 L819.8 140.3 L818.1 140.7 L820.8 141.1 L826.4 141.5 L834.2 141.9 L843.3 142.3 L852.9 142.7 L862.6 143.1 L877.2 143.5 L894.5 143.9 L909 144.3 L915 144.7 L909.9 145.1 L897.5 145.5 L882 145.9 L867.5 146.3 L858.2 146.7 L850.9 147.1 L843.8 147.5 L837.2 147.9 L831.4 148.3 L826.8 148.7 L823.6 149.1 L822.1 149.5 L822.2 149.9 L822.8 150.3 L888.3 150.7 L860.3 151.1 L832.3 151.5 L862.3 151.9 L892.2 152.3 L861.1 152.7 L830 153.1 L863.9 153.5 L897.9 153.9 L878.8 154.3 L859.6 154.7 L884.9 155.1 L910.1 155.5 L877.3 155.9 L844.5 156.3 L880.7 156.7 L916.9 157.1 L888.8 157.5 L860.8 157.9 L881.1 158.3 L901.4 158.7 L878.2 159.1 L855 159.5 L879.4 159.9 L903.8 160.3 L885.6 160.7 L867.4 161.1 L897 161.5 L926.6 161.9 L896.4 162.3 L866.1 162.7 L897.5 163.1 L928.9 163.5 L903.3 163.9 L877.8 164.3 L901.8 164.7 L925.8 165.1 L896.3 165.5 L866.7 165.9 L901.1 166.3 L935.5 166.7 L912.1 167.1 L888.6 167.5 L907.7 167.9 L926.7 168.3 L900.8 168.7 L874.8 169.1 L907.4 169.5 L939.9 169.9 L914 170.3 L888 170.7 L907.2 171.1 L926.4 171.5 L897.5 171.9 L868.6 172.3 L910 172.7 L951.5 173.1 L913.3 173.5 L875.1 173.9 L909.8 174.3 L944.5 174.7 L906.2 175.1 L868 175.5 L911.1 175.9 L954.3 176.3 L912.5 176.7 L870.7 177.1 L909.9 177.5 L949.1 177.9 L920.5 178.3 L892 178.7 L918.1 179.1 L944.2 179.5 L909.4 179.9 L874.6 180.3 L915.6 180.7 L956.6 181.1 L922.5 181.5 L888.3 181.9 L913.5 182.3 L938.8 182.7 L924 183.1 L909.3 183.5 L930.3 183.9 L951.4 184.3 L928.2 184.7 L905.1 185.1 L919.1 185.5 L933.1 185.9 L909 186.3 L885 186.7 L910.3 187.1 L935.5 187.5 L908.2 187.9 L880.9 188.3 L913.1 188.7 L945.3 189.1 L914.9 189.5 L884.4 189.9 L914.5 190.3 L944.5 190.7 L915 191.1 L885.5 191.5 L906.6 191.9 L927.8 192.3 L911.9 192.7 L896.1 193.1 L916.2 193.5 L936.4 193.9 L904.7 194.3 L873 194.7 L898.5 195.1 L924 195.5 L909.6 195.9 L895.3 196.3 L908.5 196.7 L921.6 197.1 L904.1 197.5 L886.6 197.9 L908.3 198.3 L930 198.7 L906 199.1 L882 199.5 L911.7 199.9 L941.3 200.3 L911.5 200.7 L881.6 201.1 L907.1 201.5 L932.7 201.9 L908.2 202.3 L883.7 202.7 L909.6 203.1 L935.5 203.5 L914.2 203.9 L892.8 204.3 L918.1 204.7 L943.3 205.1 L927.9 205.5 L912.4 205.9 L931.1 206.3 L949.8 206.7 L950.6 207.1 L951.4 207.5 L951.8 207.9 L946.8 208.3 L937 208.7 L924.7 209.1 L912.3 209.5 L902 209.9 L894.6 210.3 L887.9 210.7 L881.6 211.1 L875.6 211.5 L870 211.9 L864.7 212.3 L859.6 212.7 L854.8 213.1 L850 213.5 L845.3 213.9 L840.6 214.3 L836 214.7 L831.5 215.1 L827.1 215.5 L822.9 215.9 L818.8 216.3 L814.8 216.7 L811.1 217.1 L807.5 217.5 L804.2 217.9 L801.1 218.3 L798.3 218.7 L795.7 219.1 L793.5 219.5 L791.3 219.9 L789.3 220.3 L787.3 220.7 L785.4 221.1 L783.5 221.5 L781.8 221.9 L780 222.3 L778.4 222.7 L776.8 223.1 L775.3 223.5 L773.8 223.9 L772.4 224.3 L771.1 224.7 L769.8 225.1 L768.6 225.5 L767.5 225.9 L766.4 226.3 L765.4 226.7 L764.4 227.1 L763.5 227.5 L762.7 227.9 L761.9 228.3 L761.1 228.7 L760.3 229.1 L759.5 229.5 L758.7 229.9 L758 230.3 L757.2 230.7 L756.5 231.1 L755.8 231.5 L755.2 231.9 L754.6 232.3 L754 232.7 L753.5 233.1 L753 233.5 L752.6 233.9 L752.2 234.3 L751.9 234.7 L751.7 235.1 L751.6 235.5 L751.5 235.9 L751.5 236.3 L751.7 236.7 L751.9 237.1 L752.2 237.5 L752.7 237.9 L753.2 238.3 L753.8 238.7 L754.5 239.1 L755.2 239.5 L756.1 239.9 L757 240.3 L757.9 240.7 L758.9 241.1 L760 241.5 L761.1 241.9 L762.2 242.3 L763.6 242.7 L765.6 243.1 L768.2 243.5 L771.2 243.9 L774.6 244.3 L778.2 244.7 L782 245.1 L785.8 245.5 L789.5 245.9 L793 246.3 L796.4 246.7 L798.8 247.1 L801.7 247.5 L804.5 247.9 L806.9 248.3 L806.3 248.7 L810.9 249.1 L815.3 249.5 L816.5 249.9 L818.4 250.3 L820.7 250.7 L826.4 251.1 L826.2 251.5 L825.2 251.9 L829.6 252.3 L835.9 252.7 L836.3 253.1 L837.3 253.5 L840.9 253.9 L849.5 254.3 L848.1 254.7 L849.2 255.1 L852.4 255.5 L855.6 255.9 L858.9 256.3 L860.6 256.7 L866 257.1 L873.1 257.5 L875.8 257.9 L881.1 258.3 L891.6 258.7 L902.3 259.1 L911.4 259.5 L916.3 259.9 L915.1 260.3 L909.6 260.7 L901.4 261.1 L892.2 261.5 L879.3 261.9 L875.2 262.3 L871.7 262.7 L867.2 263.1 L863 263.5 L859.2 263.9 L857.5 264.3 L852.5 264.7 L847.5 265.1 L844.7 265.5 L841.4 265.9 L837.6 266.3 L833.3 266.7 L829.9 267.1 L826.7 267.5 L822.6 267.9 L818.9 268.3 L815.1 268.7 L811.4 269.1 L807.5 269.5 L803.6 269.9 L799.5 270.3 L795.3 270.7 L790.8 271.1 L786.1 271.5 L781.3 271.9 L776.6 272.3 L772 272.7 L767.5 273.1 L763.5 273.5 L759.7 273.9 L756.1 274.3 L752.5 274.7 L749.1 275.1 L745.8 275.5 L742.6 275.9 L739.6 276.3 L736.6 276.7 L733.7 277.1 L731 277.5 L728.3 277.9 L725.8 278.3 L723.3 278.7 L720.8 279.1 L718.5 279.5 L716.2 279.9 L714 280.3 L711.9 280.7 L709.9 281.1 L708 281.5 L706.2 281.9 L704.3 282.3 L702.5 282.7 L700.8 283.1 L699 283.5 L697.3 283.9 L695.6 284.3 L693.9 284.7 L692.3 285.1 L690.7 285.5 L689.1 285.9 L687.6 286.3 L686.1 286.7 L684.6 287.1 L683.2 287.5 L681.8 287.9 L680.4 288.3 L679.1 288.7 L677.8 289.1 L676.6 289.5 L675.4 289.9 L674.2 290.3 L673.1 290.7 L672 291.1 L671 291.5 L670 291.9 L669 292.3 L668 292.7 L667.1 293.1 L666.1 293.5 L665.2 293.9 L664.3 294.3 L663.3 294.7 L662.4 295.1 L661.6 295.5 L660.7 295.9 L659.8 296.3 L659 296.7 L658.2 297.1 L657.3 297.5 L656.6 297.9 L655.8 298.3 L655 298.7 L654.3 299.1 L653.5 299.5 L652.8 299.9 L652.2 300.3 L651.5 300.7 L650.8 301.1 L650.2 301.5 L649.6 301.9 L649 302.3 L648.4 302.7 L647.9 303.1 L647.4 303.5 L646.9 303.9 L646.4 304.3 L645.9 304.7 L645.5 305.1 L645.1 305.5 L644.7 305.9 L644.3 306.3 L643.9 306.7 L643.5 307.1 L643.2 307.5 L642.8 307.9 L642.4 308.3 L642 308.7 L641.6 309.1 L641.3 309.5 L640.9 309.9 L640.5 310.3 L640.2 310.7 L639.8 311.1 L639.5 311.5 L639.1 311.9 L638.8 312.3 L638.4 312.7 L638.1 313.1 L637.8 313.5 L637.4 313.9 L637.1 314.3 L636.8 314.7 L636.5 315.1 L636.2 315.5 L635.9 315.9 L635.7 316.3 L635.4 316.7 L635.1 317.1 L634.9 317.5 L634.6 317.9 L634.4 318.3 L634.2 318.7 L633.9 319.1 L633.7 319.5 L633.5 319.9 L633.4 320.3 L633.2 320.7 L633 321.1 L632.9 321.5 L632.7 321.9 L632.6 322.3 L632.5 322.7 L632.4 323.1 L632.3 323.5 L632.2 323.9 L632.1 324.3 L632.1 324.7 L632 325.1 L632 325.5 L632 325.9 L632 326.3 L632 326.7 L632 327.1 L632.1 327.5 L632.1 327.9 L632.1 328.3 L632.2 328.7 L632.3 329.1 L632.3 329.5 L632.4 329.9 L632.5 330.3 L632.6 330.7 L632.7 331.1 L632.8 331.5 L632.9 331.9 L633 332.3 L633.1 332.7 L633.3 333.1 L633.4 333.5 L633.5 333.9 L633.7 334.3 L633.8 334.7 L634 335.1 L634.2 335.5 L634.3 335.9 L634.5 336.3 L634.7 336.7 L634.9 337.1 L635 337.5 L635.2 337.9 L635.4 338.3 L635.6 338.7 L635.8 339.1 L636 339.5 L636.2 339.9 L636.5 340.3 L636.7 340.7 L636.9 341.1 L637.1 341.5 L637.3 341.9 L637.5 342.3 L637.8 342.7 L638 343.1 L638.2 343.5 L638.5 343.9 L638.7 344.3 L638.9 344.7 L639.2 345.1 L639.4 345.5 L639.6 345.9 L639.9 346.3 L640.1 346.7 L640.4 347.1 L640.7 347.5 L641 347.9 L641.3 348.3 L641.6 348.7 L641.9 349.1 L642.3 349.5 L642.6 349.9 L643 350.3 L643.4 350.7 L643.7 351.1 L644.1 351.5 L644.6 351.9 L645 352.3 L645.4 352.7 L645.9 353.1 L646.3 353.5 L646.8 353.9 L647.3 354.3 L647.8 354.7 L648.3 355.1 L648.8 355.5 L649.3 355.9 L649.8 356.3 L650.4 356.7 L650.9 357.1 L651.5 357.5 L652.1 357.9 L652.6 358.3 L653.2 358.7 L653.8 359.1 L654.4 359.5 L655.1 359.9 L655.7 360.3 L656.3 360.7 L657 361.1 L657.7 361.5 L658.3 361.9 L659 362.3 L659.7 362.7 L660.4 363.1 L661.1 363.5 L661.8 363.9 L662.5 364.3 L663.2 364.7 L664 365.1 L664.8 365.5 L665.6 365.9 L666.4 366.3 L667.3 366.7 L668.2 367.1 L669.2 367.5 L670.1 367.9 L671.2 368.3 L672.2 368.7 L673.3 369.1 L674.5 369.5 L675.7 369.9 L676.9 370.3 L678.1 370.7 L679.4 371.1 L680.7 371.5 L682.1 371.9 L683.5 372.3 L684.9 372.7 L686.4 373.1 L687.9 373.5 L689.4 373.9 L691 374.3 L692.6 374.7 L694.2 375.1 L695.8 375.5 L697.5 375.9 L699.3 376.3 L701.2 376.7 L703.2 377.1 L705.3 377.5 L707.6 377.9 L710 378.3 L712.7 378.7 L715.5 379.1 L718.5 379.5 L721.7 379.9 L725.2 380.3 L728.9 380.7 L733.4 381.1 L738.6 381.5 L744.8 381.9 L752.2 382.3 L760.7 382.7 L770.6 383.1 L782 383.5 L805.1 383.9 L841.5 384.3 L878.4 384.7 L903 385.1 L905.3 385.5 L895 385.9 L877.2 386.3 L855 386.7 L831.4 387.1 L809.4 387.5 L791.9 387.9 L782 388.3 L777.1 388.7 L772.6 389.1 L768.5 389.5 L764.7 389.9 L761.3 390.3 L758.1 390.7 L755.2 391.1 L752.6 391.5 L750.1 391.9 L747.9 392.3 L745.8 392.7 L743.8 393.1 L741.9 393.5 L740.1 393.9 L738.3 394.3 L736.5 394.7 L734.8 395.1 L733 395.5 L731.1 395.9 L729.1 396.3 L727 396.7 L724.9 397.1 L722.8 397.5 L720.9 397.9 L718.9 398.3 L717.1 398.7 L715.3 399.1 L713.5 399.5 L711.7 399.9 L709.9 400.3 L708.1 400.7 L706.3 401.1 L704.4 401.5 L702.5 401.9 L700.5 402.3 L698.4 402.7 L696.2 403.1 L693.8 403.5 L691.5 403.9 L689.3 404.3 L687.3 404.7 L685.6 405.1 L684 405.5 L682.4 405.9 L680.9 406.3 L679.4 406.7 L678 407.1 L676.6 407.5 L675.3 407.9 L673.9 408.3 L672.7 408.7 L671.4 409.1 L670.2 409.5 L669 409.9 L667.8 410.3 L666.7 410.7 L665.5 411.1 L664.4 411.5 L663.3 411.9 L662.2 412.3 L661.2 412.7 L660.1 413.1 L659.1 413.5 L658 413.9 L657 414.3 L656 414.7 L654.9 415.1 L653.9 415.5 L652.9 415.9 L651.8 416.3 L650.8 416.7 L649.7 417.1 L648.7 417.5 L647.6 417.9 L646.6 418.3 L645.6 418.7 L644.5 419.1 L643.5 419.5 L642.5 419.9 L641.5 420.3 L640.5 420.7 L639.5 421.1 L638.5 421.5 L637.5 421.9 L636.6 422.3 L635.6 422.7 L634.7 423.1 L633.8 423.5 L632.9 423.9 L632 424.3 L631.1 424.7 L630.3 425.1 L629.4 425.5 L628.6 425.9 L627.8 426.3 L627 426.7 L626.3 427.1 L625.5 427.5 L624.8 427.9 L624.1 428.3 L623.5 428.7 L622.8 429.1 L622.2 429.5 L621.6 429.9 L620.9 430.3 L620.3 430.7 L619.6 431.1 L618.9 431.5 L618.3 431.9 L617.6 432.3 L617 432.7 L616.3 433.1 L615.7 433.5 L615 433.9 L614.4 434.3 L613.8 434.7 L613.2 435.1 L612.6 435.5 L612.1 435.9 L611.6 436.3 L611.1 436.7 L610.6 437.1 L610.1 437.5 L609.7 437.9 L609.3 438.3 L608.9 438.7 L608.6 439.1 L608.3 439.5 L608 439.9 L607.8 440.3 L607.7 440.7 L607.5 441.1 L607.4 441.5 L607.4 441.9 L607.4 442.3 L607.5 442.7 L607.7 443.1 L607.9 443.5 L608.2 443.9 L608.5 444.3 L608.9 444.7 L609.4 445.1 L609.8 445.5 L610.3 445.9 L610.9 446.3 L611.4 446.7 L612 447.1 L612.6 447.5 L613.2 447.9 L613.8 448.3 L614.3 448.7 L614.9 449.1 L615.5 449.5 L616 449.9 L616.6 450.3 L617.2 450.7 L617.8 451.1 L618.4 451.5 L619 451.9 L619.7 452.3 L620.3 452.7 L621 453.1 L621.7 453.5 L622.4 453.9 L623.2 454.3 L623.9 454.7 L624.7 455.1 L625.4 455.5 L626.2 455.9 L627 456.3 L627.8 456.7 L628.6 457.1 L629.4 457.5 L630.2 457.9 L631.1 458.3 L631.9 458.7 L632.8 459.1 L633.6 459.5 L634.5 459.9 L635.4 460.3 L636.3 460.7 L637.1 461.1 L638 461.5 L638.9 461.9 L639.8 462.3 L640.7 462.7 L641.6 463.1 L642.5 463.5 L643.4 463.9 L644.3 464.3 L645.2 464.7 L646.1 465.1 L647 465.5 L647.9 465.9 L648.8 466.3 L649.7 466.7 L650.6 467.1 L651.5 467.5 L652.4 467.9 L653.3 468.3 L654.1 468.7 L655 469.1 L655.9 469.5 L656.8 469.9 L657.8 470.3 L658.7 470.7 L659.6 471.1 L660.5 471.5 L661.4 471.9 L662.4 472.3 L663.3 472.7 L664.3 473.1 L665.2 473.5 L666.2 473.9 L667.1 474.3 L668.1 474.7 L669.1 475.1 L670 475.5 L671 475.9 L672 476.3 L672.9 476.7 L673.9 477.1 L674.9 477.5 L675.9 477.9 L676.9 478.3 L677.9 478.7 L678.9 479.1 L679.9 479.5 L680.9 479.9 L681.9 480.3 L682.9 480.7 L683.9 481.1 L684.9 481.5 L685.9 481.9 L686.9 482.3 L687.9 482.7 L688.9 483.1 L689.9 483.5 L690.9 483.9 L691.9 484.3 L692.9 484.7 L693.9 485.1 L694.9 485.5 L695.9 485.9 L696.9 486.3 L697.9 486.7 L698.9 487.1 L699.9 487.5 L701 487.9 L701.9 488.3 L702.9 488.7 L703.9 489.1 L704.9 489.5 L705.9 489.9 L706.9 490.3 L707.9 490.7 L708.9 491.1 L709.9 491.5 L710.9 491.9 L711.9 492.3 L712.9 492.7 L713.8 493.1 L714.8 493.5 L715.8 493.9 L716.8 494.3 L717.8 494.7 L718.8 495.1 L719.8 495.5 L720.8 495.9 L721.8 496.3 L722.8 496.7 L723.9 497.1 L724.9 497.5 L725.9 497.9 L726.9 498.3 L727.9 498.7 L729 499.1 L730 499.5 L731.1 499.9 L732.1 500.3 L733.2 500.7 L734.2 501.1 L735.3 501.5 L736.4 501.9 L737.5 502.3 L738.6 502.7 L739.7 503.1 L740.8 503.5 L741.9 503.9 L743 504.3 L744.1 504.7 L745.3 505.1 L746.4 505.5 L747.6 505.9 L748.7 506.3 L749.9 506.7 L751.1 507.1 L752.3 507.5 L753.4 507.9 L754.6 508.3 L755.8 508.7 L757 509.1 L758.3 509.5 L759.5 509.9 L760.7 510.3 L761.9 510.7 L763.2 511.1 L764.4 511.5 L765.7 511.9 L767 512.3 L768.2 512.7 L769.5 513.1 L770.8 513.5 L772.1 513.9 L773.4 514.3 L774.8 514.7 L776.1 515.1 L777.4 515.5 L778.8 515.9 L780.1 516.3 L781.5 516.7 L782.9 517.1 L784.3 517.5 L785.7 517.9 L787.1 518.3 L788.5 518.7 L790 519.1 L791.4 519.5 L792.9 519.9 L794.5 520.3 L796 520.7 L797.6 521.1 L799.2 521.5 L800.9 521.9 L802.5 522.3 L804.1 522.7 L805.8 523.1 L807.4 523.5 L809 523.9 L810.6 524.3 L812.1 524.7 L813.7 525.1 L815.2 525.5 L816.6 525.9 L818.1 526.3 L819.6 526.7 L821 527.1 L822.5 527.5 L823.9 527.9 L825.4 528.3 L826.9 528.7 L828.4 529.1 L829.9 529.5 L831.4 529.9 L833 530.3 L834.6 530.7 L836.2 531.1 L837.9 531.5 L839.6 531.9 L841.3 532.3 L843.2 532.7 L845 533.1 L847 533.5 L849 533.9 L851 534.3 L853.2 534.7 L855.4 535.1 L857.7 535.5 L860 535.9 L862.5 536.3 L865 536.7 L867.6 537.1 L870.3 537.5 L873.2 537.9 L876.2 538.3 L879.4 538.7 L882.8 539.1 L886.5 539.5 L890.6 539.9 L894.9 540.3 L899.6 540.7 L904.8 541.1 L910.4 541.5 L916.4 541.9 L924.4 542.3 L936 542.7 L948.1 543.1 L961.8 543.5 L968.2 543.9 L971.7 544.3 L974.2 544.7 L975.7 545.1 L976.7 545.5 L977.4 545.9 L978.1 546.3 L978.6 546.7 L978.9 547.1 L979 547.5 L978.9 547.9 L978.5 548.3 L978 548.7 L977.2 549.1 L976.3 549.5 L975.2 549.9 L972.7 550.3 L969.1 550.7 L964.9 551.1 L959.7 551.5 L953.4 551.9 L946.7 552.3 L939.2 552.7 L930.2 553.1 L922.1 553.5 L917.1 553.9 L913.6 554.3 L910.4 554.7 L907.5 555.1 L904.9 555.5 L902.5 555.9 L900.4 556.3 L898.5 556.7 L896.9 557.1 L895.4 557.5 L894 557.9 L892.8 558.3 L891.7 558.7 L890.7 559.1 L889.7 559.5 L888.8 559.9 L887.8 560.3 L887 560.7 L886.1 561.1 L885.3 561.5 L884.5 561.9 L883.8 562.3 L883.1 562.7 L882.4 563.1 L881.7 563.5 L881.1 563.9 L880.6 564.3 L880 564.7 L879.5 565.1 L879.1 565.5 L878.6 565.9 L878.2 566.3 L877.9 566.7 L877.6 567.1 L877.3 567.5 L877 567.9 L876.8 568.3 L876.5 568.7 L876.3 569.1 L876.1 569.5 L875.8 569.9 L875.6 570.3 L875.4 570.7 L875.2 571.1 L875 571.5 L874.8 571.9 L874.7 572.3 L874.5 572.7 L874.4 573.1 L874.2 573.5 L874.1 573.9 L874 574.3 L873.9 574.7 L873.8 575.1 L873.7 575.5 L873.7 575.9 L873.6 576.3 L873.6 576.7 L873.6 577.1 L873.6 577.5 L873.7 577.9 L873.7 578.3 L873.8 578.7 L873.9 579.1 L874 579.5 L874.1 579.9 L874.2 580.3 L874.4 580.7 L874.6 581.1 L874.8 581.5 L875 581.9 L875.2 582.3 L875.4 582.7 L875.6 583.1 L875.9 583.5 L876.2 583.9 L876.4 584.3 L876.7 584.7 L877 585.1 L877.3 585.5 L877.6 585.9 L877.9 586.3 L878.2 586.7 L878.5 587.1 L878.9 587.5 L879.2 587.9 L879.5 588.3 L879.9 588.7 L880.2 589.1 L880.6 589.5 L880.9 589.9 L881.3 590.3 L881.6 590.7 L882 591.1 L882.4 591.5 L882.9 591.9 L883.3 592.3 L883.8 592.7 L884.3 593.1 L884.8 593.5 L885.3 593.9 L885.9 594.3 L886.5 594.7 L887.1 595.1 L887.7 595.5 L888.4 595.9 L889.1 596.3 L889.8 596.7 L890.5 597.1 L891.3 597.5 L892.1 597.9 L893 598.3 L893.8 598.7 L894.7 599.1 L895.7 599.5 L896.7 599.9 L897.7 600.3 L898.7 600.7 L899.8 601.1 L900.9 601.5 L902.2 601.9 L903.5 602.3 L905 602.7 L906.5 603.1 L908.3 603.5 L910.1 603.9 L912.2 604.3 L914.4 604.7 L916.8 605.1 L919.3 605.5 L922.1 605.9 L925.2 606.3 L928.4 606.7 L931.9 607.1 L935.6 607.5 L940.3 607.9 L947.3 608.3 L956 608.7 L965.6 609.1 L975.6 609.5 L982.5 610.6 L972.5 614.2 L991.5 618.3 L972.5 621.9 L990 625.1 L973 628.4 L991.5 631.4 L973.5 634.7 L991.5 637.8 L974 640.9 L992.5 643.7 L975 646.2 L991.5 648.5 L966 651.8 L1003 654" stroke="#9400d3" stroke-width="3"/>
<path d="M731 17.5 L736.1 17.9 L741.4 18.3 L746.9 18.7 L752.5 19.1 L758.2 19.5 L764.1 19.9 L770 20.3 L776.2 20.7 L782.4 21.1 L788.7 21.5 L795.1 21.9 L801.6 22.3 L807.9 22.7 L814.1 23.1 L820.4 23.5 L827 23.9 L834 24.3 L841.7 24.7 L851 25.1 L852.8 25.5 L870.3 25.9 L890.2 26.3 L904.7 26.7 L920.5 27.1 L940.1 27.5 L963.9 27.9 L976 28.3 L969.4 28.7 L953.6 29.1 L935 29.5 L905.5 29.9 L885 30.3 L921.3 30.7 L910.1 31.1 L872.7 31.5 L930 31.9 L852 32.3 L905.8 32.7 L841.5 33.1 L794.7 33.5 L786.8 33.9 L781.7 34.3 L778.5 34.7 L776.5 35.1 L774.7 35.5 L773 35.9 L771.5 36.3 L770.1 36.7 L768.9 37.1 L767.8 37.5 L766.9 37.9 L766.1 38.3 L765.5 38.7 L765.1 39.1 L764.9 39.5 L764.8 39.9 L764.9 40.3 L765.3 40.7 L765.8 41.1 L766.4 41.5 L767.2 41.9 L768.2 42.3 L769.3 42.7 L770.5 43.1 L771.8 43.5 L773.3 43.9 L774.8 44.3 L776.5 44.7 L779 45.1 L782.6 45.5 L787 45.9 L791.9 46.3 L797.3 46.7 L802.8 47.1 L809 47.5 L816 47.9 L823.7 48.3 L832.2 48.7 L841.5 49.1 L852.5 49.5 L860.4 49.9 L877.4 50.3 L906.9 50.7 L917.4 51.1 L925.8 51.5 L942.5 51.9 L960.8 52.3 L969 52.7 L973.4 53.1 L968.8 53.5 L961.4 53.9 L932.6 54.3 L901.8 54.7 L876.8 55.1 L857.2 55.5 L837 55.9 L820.7 56.3 L807.4 56.7 L798 57.1 L790.5 57.5 L784 57.9 L778.4 58.3 L773.4 58.7 L768.9 59.1 L764.8 59.5 L760.9 59.9 L757.2 60.3 L753.8 60.7 L750.6 61.1 L747.6 61.5 L744.7 61.9 L742 62.3 L739.4 62.7 L736.9 63.1 L734.3 63.5 L731.8 63.9 L729.3 64.3 L726.7 64.7 L724 65.1 L721.3 65.5 L718.6 65.9 L715.9 66.3 L713.2 66.7 L710.7 67.1 L708.2 67.5 L705.8 67.9 L703.6 68.3 L701.5 68.7 L699.6 69.1 L698 69.5 L696.5 69.9 L695.1 70.3 L693.8 70.7 L692.5 71.1 L691.2 71.5 L690.1 71.9 L688.9 72.3 L687.9 72.7 L686.8 73.1 L685.8 73.5 L684.8 73.9 L683.9 74.3 L682.9 74.7 L682 75.1 L681.1 75.5 L680.2 75.9 L679.4 76.3 L678.5 76.7 L677.6 77.1 L676.7 77.5 L675.8 77.9 L674.9 78.3 L674 78.7 L673 79.1 L672 79.5 L671 79.9 L669.9 80.3 L668.7 80.7 L667.6 81.1 L666.4 81.5 L665.3 81.9 L664.2 82.3 L663.2 82.7 L662.2 83.1 L661.4 83.5 L660.7 83.9 L660.1 84.3 L660 84.7 L658.5 85.1 L658.6 85.5 L661.2 85.9 L659.1 86.3 L654.6 86.7 L656.7 87.1 L665 87.5 L659.1 87.9 L651.3 88.3 L655.3 88.7 L671.5 89.1 L660 89.5 L649.3 89.9 L654.1 90.3 L661.8 90.7 L656.9 91.1 L652.1 91.5 L654.1 91.9 L669.5 92.3 L658.1 92.7 L651 93.1 L653.1 93.5 L666.5 93.9 L656.7 94.3 L652.5 94.7 L652.9 95.1 L660.1 95.5 L654.5 95.9 L648.4 96.3 L651.4 96.7 L665.2 97.1 L655.4 97.5 L645.1 97.9 L650.3 98.3 L654.5 98.7 L652.6 99.1 L647.2 99.5 L651.1 99.9 L662.8 100.3 L655.7 100.7 L652.8 101.1 L654.3 101.5 L663.4 101.9 L657.7 102.3 L655.3 102.7 L657.6 103.1 L660.7 103.5 L659.8 103.9 L660.8 104.3 L662.3 104.7 L699 105.1 L693.3 105.5 L687.6 105.9 L705.9 106.3 L724.2 106.7 L707.2 107.1 L690.2 107.5 L725.3 107.9 L760.4 108.3 L732.6 108.7 L704.9 109.1 L743.6 109.5 L782.2 109.9 L741.7 110.3 L701.1 110.7 L743.6 111.1 L786.1 111.5 L744.3 111.9 L702.5 112.3 L743.4 112.7 L784.3 113.1 L746.3 113.5 L708.4 113.9 L729.9 114.3 L751.4 114.7 L731.3 115.1 L711.2 115.5 L717.8 115.9 L724.4 116.3 L710.3 116.7 L696.3 117.1 L700.6 117.5 L705 117.9 L697.5 118.3 L690 118.7 L691 119.1 L695.1 119.5 L701.2 119.9 L708.3 120.3 L715.4 120.7 L721.4 121.1 L726.9 121.5 L732.4 121.9 L737.9 122.3 L743.5 122.7 L749.3 123.1 L755.3 123.5 L761.6 123.9 L768.5 124.3 L775.9 124.7 L783.7 125.1 L791.8 125.5 L800.1 125.9 L808.4 126.3 L816.7 126.7 L822.5 127.1 L831.3 127.5 L843.7 127.9 L846.7 128.3 L847.5 128.7 L856.1 129.1 L871.4 129.5 L870.9 129.9 L871.6 130.3 L879.7 130.7 L890.7 131.1 L892.9 131.5 L894.1 131.9 L901.4 132.3 L911.7 132.7 L911.9 133.1 L913.2 133.5 L918.2 133.9 L920.9 134.3 L923 134.7 L924.4 135.1 L925 135.5 L923.3 135.9 L916.7 136.3 L906.5 136.7 L894.6 137.1 L882.6 137.5 L872.2 137.9 L863.4 138.3 L853.8 138.7 L844 139.1 L835.2 139.5 L826.7 139.9 L822.7 140.3 L823.6 140.7 L824.9 141.1 L828.7 141.5 L836.3 141.9 L854.1 142.3 L855.8 142.7 L861.2 143.1 L875.8 143.5 L900.7 143.9 L908.3 144.3 L909.1 144.7 L906.5 145.1 L905.1 145.5 L883.1 145.9 L866.6 146.3 L858.2 146.7 L860.7 147.1 L846.7 147.5 L836.8 147.9 L833.4 148.3 L829.4 148.7 L826.4 149.1 L825.1 149.5 L825.1 149.9 L825.7 150.3 L872.4 150.7 L859.8 151.1 L847.3 151.5 L834.7 151.9 L845.6 152.3 L856.5 152.7 L867.4 153.1 L865.9 153.5 L864.3 153.9 L862.8 154.3 L867 154.7 L871.3 155.1 L875.6 155.5 L875.8 155.9 L876 156.3 L876.2 156.7 L879.4 157.1 L882.6 157.5 L885.8 157.9 L878.7 158.3 L871.6 158.7 L864.5 159.1 L879.7 159.5 L894.8 159.9 L910 160.3 L896.2 160.7 L882.4 161.1 L868.5 161.5 L882 161.9 L895.4 162.3 L908.9 162.7 L901.1 163.1 L893.3 163.5 L885.6 163.9 L894.8 164.3 L904.1 164.7 L913.3 165.1 L903.2 165.5 L893.1 165.9 L883 166.3 L891.6 166.7 L900.1 167.1 L908.6 167.5 L897.4 167.9 L886.2 168.3 L875 168.7 L888.8 169.1 L902.5 169.5 L916.3 169.9 L903.3 170.3 L890.4 170.7 L877.4 171.1 L896.2 171.5 L915.1 171.9 L934 172.3 L922.6 172.7 L911.1 173.1 L899.7 173.5 L907.1 173.9 L914.6 174.3 L922 174.7 L910 175.1 L898.1 175.5 L886.2 175.9 L902.7 176.3 L919.3 176.7 L935.8 177.1 L926.2 177.5 L916.5 177.9 L906.8 178.3 L917.1 178.7 L927.4 179.1 L937.8 179.5 L920.1 179.9 L902.4 180.3 L884.7 180.7 L903.1 181.1 L921.5 181.5 L939.8 181.9 L923.6 182.3 L907.3 182.7 L891 183.1 L901.8 183.5 L912.7 183.9 L923.5 184.3 L912.2 184.7 L901 185.1 L889.7 185.5 L897.4 185.9 L905.2 186.3 L912.9 186.7 L904.3 187.1 L895.7 187.5 L887.1 187.9 L900.8 188.3 L914.6 188.7 L928.3 189.1 L916.8 189.5 L905.2 189.9 L893.6 190.3 L904.5 190.7 L915.3 191.1 L926.1 191.5 L912.8 191.9 L899.5 192.3 L886.3 192.7 L900.2 193.1 L914.1 193.5 L928 193.9 L914.7 194.3 L901.4 194.7 L888.1 195.1 L901.1 195.5 L914.1 195.9 L927.1 196.3 L913.4 196.7 L899.7 197.1 L886 197.5 L893.5 197.9 L901 198.3 L908.4 198.7 L902 199.1 L895.6 199.5 L889.2 199.9 L901.7 200.3 L914.3 200.7 L926.8 201.1 L918.6 201.5 L910.4 201.9 L902.2 202.3 L906.5 202.7 L910.8 203.1 L915 203.5 L909.3 203.9 L903.6 204.3 L897.9 204.7 L909.2 205.1 L920.4 205.5 L931.6 205.9 L936.1 206.3 L940.6 206.7 L945.1 207.1 L945.7 207.5 L939.4 207.9 L927.6 208.3 L914.1 208.7 L902.2 209.1 L894 209.5 L886.3 209.9 L879.1 210.3 L872.4 210.7 L866.1 211.1 L860.2 211.5 L854.7 211.9 L849.3 212.3 L844 212.7 L838.9 213.1 L833.8 213.5 L828.9 213.9 L824.2 214.3 L819.6 214.7 L815.2 215.1 L811.1 215.5 L807.2 215.9 L803.6 216.3 L800.3 216.7 L797.3 217.1 L794.6 217.5 L792.2 217.9 L789.9 218.3 L787.6 218.7 L785.5 219.1 L783.4 219.5 L781.3 219.9 L779.4 220.3 L777.5 220.7 L775.7 221.1 L774 221.5 L772.4 221.9 L770.8 222.3 L769.3 222.7 L767.9 223.1 L766.6 223.5 L765.3 223.9 L764.1 224.3 L763 224.7 L762 225.1 L761.1 225.5 L760.2 225.9 L759.4 226.3 L758.6 226.7 L757.8 227.1 L757 227.5 L756.3 227.9 L755.5 228.3 L754.8 228.7 L754.1 229.1 L753.4 229.5 L752.7 229.9 L752.1 230.3 L751.4 230.7 L750.9 231.1 L750.3 231.5 L749.8 231.9 L749.3 232.3 L748.9 232.7 L748.5 233.1 L748.1 233.5 L747.8 233.9 L747.5 234.3 L747.3 234.7 L747.1 235.1 L747 235.5 L747 235.9 L747 236.3 L747.2 236.7 L747.4 237.1 L747.7 237.5 L748.2 237.9 L748.7 238.3 L749.3 238.7 L750 239.1 L750.7 239.5 L751.6 239.9 L752.5 240.3 L753.5 240.7 L754.5 241.1 L755.6 241.5 L756.7 241.9 L758.2 242.3 L760.4 242.7 L763.5 243.1 L767 243.5 L771 243.9 L775.2 244.3 L779.5 244.7 L783.7 245.1 L787.7 245.5 L791.2 245.9 L794.3 246.3 L797.2 246.7 L799.9 247.1 L802.6 247.5 L805.1 247.9 L807.6 248.3 L810.8 248.7 L809.5 249.1 L813.8 249.5 L825.4 249.9 L822 250.3 L817.6 250.7 L824.2 251.1 L832.6 251.5 L832.8 251.9 L835.1 252.3 L839 252.7 L856 253.1 L852.9 253.5 L852.9 253.9 L863.1 254.3 L888.1 254.7 L883.5 255.1 L884.7 255.5 L893.1 255.9 L914.2 256.3 L906.9 256.7 L903.5 257.1 L908.4 257.5 L908.9 257.9 L908.4 258.3 L907.5 258.7 L906.3 259.1 L904.8 259.5 L903 259.9 L900.9 260.3 L898.6 260.7 L896 261.1 L893.2 261.5 L890.3 261.9 L887.3 262.3 L884.6 262.7 L880.3 263.1 L877.3 263.5 L874.4 263.9 L870.7 264.3 L866.1 264.7 L862.8 265.1 L859.5 265.5 L853.3 265.9 L847 266.3 L841.3 266.7 L835.6 267.1 L829.3 267.5 L823.4 267.9 L817.7 268.3 L811.6 268.7 L805.3 269.1 L798.8 269.5 L792.3 269.9 L785.9 270.3 L779.7 270.7 L773.8 271.1 L768.3 271.5 L763.3 271.9 L759 272.3 L755 272.7 L751.2 273.1 L747.6 273.5 L744.3 273.9 L741 274.3 L738 274.7 L735 275.1 L732.1 275.5 L729.2 275.9 L726.4 276.3 L723.6 276.7 L720.8 277.1 L718.1 277.5 L715.4 277.9 L712.8 278.3 L710.2 278.7 L707.8 279.1 L705.4 279.5 L703.2 279.9 L701 280.3 L699 280.7 L697 281.1 L695.1 281.5 L693.1 281.9 L691.2 282.3 L689.4 282.7 L687.5 283.1 L685.7 283.5 L683.9 283.9 L682.2 284.3 L680.5 284.7 L678.8 285.1 L677.2 285.5 L675.6 285.9 L674 286.3 L672.5 286.7 L671 287.1 L669.6 287.5 L668.1 287.9 L666.8 288.3 L665.4 288.7 L664.2 289.1 L662.9 289.5 L661.7 289.9 L660.6 290.3 L659.4 290.7 L658.3 291.1 L657.3 291.5 L656.2 291.9 L655.1 292.3 L654.1 292.7 L653 293.1 L652 293.5 L651 293.9 L650 294.3 L649.1 294.7 L648.1 295.1 L647.2 295.5 L646.2 295.9 L645.3 296.3 L644.4 296.7 L643.6 297.1 L642.7 297.5 L641.9 297.9 L641 298.3 L640.2 298.7 L639.4 299.1 L638.7 299.5 L637.9 299.9 L637.2 300.3 L636.5 300.7 L635.8 301.1 L635.1 301.5 L634.4 301.9 L633.8 302.3 L633.2 302.7 L632.6 303.1 L632 303.5 L631.4 303.9 L630.9 304.3 L630.4 304.7 L629.9 305.1 L629.4 305.5 L628.9 305.9 L628.4 306.3 L627.9 306.7 L627.4 307.1 L626.9 307.5 L626.5 307.9 L626 308.3 L625.5 308.7 L625 309.1 L624.5 309.5 L624.1 309.9 L623.6 310.3 L623.1 310.7 L622.7 311.1 L622.2 311.5 L621.8 311.9 L621.3 312.3 L620.9 312.7 L620.5 313.1 L620 313.5 L619.6 313.9 L619.2 314.3 L618.8 314.7 L618.4 315.1 L618 315.5 L617.7 315.9 L617.3 316.3 L617 316.7 L616.6 317.1 L616.3 317.5 L616 317.9 L615.7 318.3 L615.4 318.7 L615.1 319.1 L614.8 319.5 L614.5 319.9 L614.3 320.3 L614.1 320.7 L613.8 321.1 L613.6 321.5 L613.5 321.9 L613.3 322.3 L613.1 322.7 L613 323.1 L612.9 323.5 L612.8 323.9 L612.7 324.3 L612.6 324.7 L612.5 325.1 L612.5 325.5 L612.5 325.9 L612.5 326.3 L612.5 326.7 L612.5 327.1 L612.5 327.5 L612.6 327.9 L612.6 328.3 L612.6 328.7 L612.7 329.1 L612.7 329.5 L612.8 329.9 L612.8 330.3 L612.9 330.7 L613 331.1 L613.1 331.5 L613.1 331.9 L613.2 332.3 L613.3 332.7 L613.4 333.1 L613.5 333.5 L613.6 333.9 L613.7 334.3 L613.8 334.7 L613.9 335.1 L614.1 335.5 L614.2 335.9 L614.3 336.3 L614.5 336.7 L614.6 337.1 L614.7 337.5 L614.9 337.9 L615 338.3 L615.2 338.7 L615.3 339.1 L615.5 339.5 L615.7 339.9 L615.8 340.3 L616 340.7 L616.2 341.1 L616.3 341.5 L616.5 341.9 L616.7 342.3 L616.9 342.7 L617.1 343.1 L617.3 343.5 L617.5 343.9 L617.7 344.3 L617.9 344.7 L618.1 345.1 L618.3 345.5 L618.5 345.9 L618.8 346.3 L619.2 346.7 L619.5 347.1 L619.9 347.5 L620.3 347.9 L620.8 348.3 L621.3 348.7 L621.8 349.1 L622.3 349.5 L622.8 349.9 L623.4 350.3 L623.9 350.7 L624.5 351.1 L625.1 351.5 L625.8 351.9 L626.4 352.3 L627 352.7 L627.7 353.1 L628.3 353.5 L629 353.9 L629.6 354.3 L630.3 354.7 L630.9 355.1 L631.6 355.5 L632.2 355.9 L632.9 356.3 L633.5 356.7 L634.2 357.1 L634.8 357.5 L635.4 357.9 L636.1 358.3 L636.7 358.7 L637.3 359.1 L638 359.5 L638.7 359.9 L639.3 360.3 L640 360.7 L640.7 361.1 L641.4 361.5 L642.1 361.9 L642.8 362.3 L643.5 362.7 L644.3 363.1 L645 363.5 L645.8 363.9 L646.6 364.3 L647.4 364.7 L648.3 365.1 L649.1 365.5 L650 365.9 L650.9 366.3 L651.8 366.7 L652.8 367.1 L653.7 367.5 L654.7 367.9 L655.8 368.3 L656.8 368.7 L657.9 369.1 L659 369.5 L660.2 369.9 L661.4 370.3 L662.6 370.7 L663.9 371.1 L665.2 371.5 L666.6 371.9 L668 372.3 L669.5 372.7 L671.1 373.1 L672.7 373.5 L674.3 373.9 L676 374.3 L677.8 374.7 L679.6 375.1 L681.5 375.5 L683.5 375.9 L685.5 376.3 L687.7 376.7 L689.9 377.1 L692.2 377.5 L694.7 377.9 L697.4 378.3 L700.2 378.7 L703.2 379.1 L706.5 379.5 L710 379.9 L713.8 380.3 L717.9 380.7 L722.3 381.1 L727 381.5 L732.2 381.9 L738.2 382.3 L745.4 382.7 L754.2 383.1 L765 383.5 L778.3 383.9 L805.4 384.3 L856.3 384.7 L898.2 385.1 L903 385.5 L888.7 385.9 L865.1 386.3 L837.4 386.7 L810.7 387.1 L790.2 387.5 L780.6 387.9 L775.2 388.3 L770.3 388.7 L765.9 389.1 L761.8 389.5 L758.1 389.9 L754.8 390.3 L751.7 390.7 L749 391.1 L746.4 391.5 L744.1 391.9 L741.9 392.3 L739.8 392.7 L737.9 393.1 L736 393.5 L734.1 393.9 L732.3 394.3 L730.4 394.7 L728.5 395.1 L726.4 395.5 L724.2 395.9 L721.9 396.3 L719.4 396.7 L716.8 397.1 L715.4 397.5 L710.1 397.9 L708.8 398.3 L713.1 398.7 L706 399.1 L699.4 399.5 L699 399.9 L705.2 400.3 L696.8 400.7 L686.5 401.1 L688.5 401.5 L690.2 401.9 L685.3 402.3 L682.3 402.7 L679.6 403.1 L676.8 403.5 L674 403.9 L671.2 404.3 L668.4 404.7 L665.6 405.1 L662.8 405.5 L660 405.9 L657.3 406.3 L654.6 406.7 L652 407.1 L649.5 407.5 L647.1 407.9 L644.8 408.3 L642.6 408.7 L640.5 409.1 L638.6 409.5 L636.9 409.9 L635.4 410.3 L634 410.7 L632.7 411.1 L631.5 411.5 L630.3 411.9 L629.2 412.3 L628 412.7 L626.9 413.1 L625.8 413.5 L624.8 413.9 L623.7 414.3 L622.7 414.7 L621.8 415.1 L620.8 415.5 L619.9 415.9 L619 416.3 L618.1 416.7 L617.2 417.1 L616.4 417.5 L615.6 417.9 L614.8 418.3 L614 418.7 L613.3 419.1 L612.6 419.5 L611.9 419.9 L611.2 420.3 L610.5 420.7 L609.9 421.1 L609.2 421.5 L608.6 421.9 L608.1 422.3 L607.5 422.7 L606.9 423.1 L606.4 423.5 L605.9 423.9 L605.4 424.3 L604.9 424.7 L604.4 425.1 L604 425.5 L603.6 425.9 L603.1 426.3 L602.7 426.7 L602.2 427.1 L601.8 427.5 L601.4 427.9 L600.9 428.3 L600.5 428.7 L600.1 429.1 L599.6 429.5 L599.2 429.9 L598.8 430.3 L598.4 430.7 L598 431.1 L597.6 431.5 L597.3 431.9 L596.9 432.3 L596.5 432.7 L596.2 433.1 L595.9 433.5 L595.6 433.9 L595.3 434.3 L595 434.7 L594.7 435.1 L594.5 435.5 L594.2 435.9 L594 436.3 L593.8 436.7 L593.6 437.1 L593.5 437.5 L593.3 437.9 L593.2 438.3 L593.1 438.7 L593.1 439.1 L593 439.5 L593 439.9 L593 440.3 L593.1 440.7 L593.4 441.1 L593.7 441.5 L594 441.9 L594.5 442.3 L595 442.7 L595.6 443.1 L596.2 443.5 L596.9 443.9 L597.6 444.3 L598.3 444.7 L599.1 445.1 L599.9 445.5 L600.7 445.9 L601.6 446.3 L602.4 446.7 L603.2 447.1 L604 447.5 L604.9 447.9 L605.6 448.3 L606.4 448.7 L607.1 449.1 L607.8 449.5 L608.5 449.9 L609.2 450.3 L609.8 450.7 L610.5 451.1 L611.2 451.5 L611.9 451.9 L612.6 452.3 L613.3 452.7 L614 453.1 L614.7 453.5 L615.4 453.9 L616.1 454.3 L616.8 454.7 L617.5 455.1 L618.2 455.5 L618.9 455.9 L619.6 456.3 L620.3 456.7 L621.1 457.1 L621.8 457.5 L622.5 457.9 L623.2 458.3 L623.9 458.7 L624.7 459.1 L625.4 459.5 L626.1 459.9 L626.8 460.3 L627.5 460.7 L628.2 461.1 L628.9 461.5 L629.7 461.9 L630.4 462.3 L631.1 462.7 L631.8 463.1 L632.5 463.5 L633.1 463.9 L633.8 464.3 L634.5 464.7 L635.2 465.1 L635.9 465.5 L636.5 465.9 L637.2 466.3 L637.9 466.7 L638.5 467.1 L639.2 467.5 L639.8 467.9 L640.5 468.3 L641.1 468.7 L641.7 469.1 L642.4 469.5 L643 469.9 L643.6 470.3 L644.3 470.7 L644.9 471.1 L645.5 471.5 L646.2 471.9 L646.8 472.3 L647.4 472.7 L648 473.1 L648.7 473.5 L649.3 473.9 L649.9 474.3 L650.5 474.7 L651.2 475.1 L651.8 475.5 L652.4 475.9 L653.1 476.3 L653.7 476.7 L654.3 477.1 L655 477.5 L655.6 477.9 L656.3 478.3 L656.9 478.7 L657.6 479.1 L658.2 479.5 L658.9 479.9 L659.6 480.3 L660.2 480.7 L660.9 481.1 L661.6 481.5 L662.3 481.9 L663 482.3 L663.7 482.7 L664.4 483.1 L665.1 483.5 L665.8 483.9 L666.5 484.3 L667.2 484.7 L668 485.1 L668.7 485.5 L669.5 485.9 L670.2 486.3 L671 486.7 L671.8 487.1 L672.6 487.5 L673.3 487.9 L674.1 488.3 L674.9 488.7 L675.7 489.1 L676.5 489.5 L677.3 489.9 L678.1 490.3 L678.9 490.7 L679.8 491.1 L680.6 491.5 L681.4 491.9 L682.3 492.3 L683.1 492.7 L684 493.1 L684.8 493.5 L685.7 493.9 L686.6 494.3 L687.5 494.7 L688.4 495.1 L689.3 495.5 L690.2 495.9 L691.1 496.3 L692 496.7 L693 497.1 L693.9 497.5 L694.9 497.9 L695.8 498.3 L696.8 498.7 L697.8 499.1 L698.8 499.5 L699.8 499.9 L700.8 500.3 L701.8 500.7 L702.9 501.1 L703.9 501.5 L705 501.9 L706.1 502.3 L707.2 502.7 L708.3 503.1 L709.4 503.5 L710.6 503.9 L711.9 504.3 L713.1 504.7 L714.5 505.1 L715.8 505.5 L717.2 505.9 L718.6 506.3 L720 506.7 L721.4 507.1 L722.8 507.5 L724.2 507.9 L725.6 508.3 L727 508.7 L728.4 509.1 L729.8 509.5 L731.1 509.9 L732.4 510.3 L733.6 510.7 L734.9 511.1 L736.1 511.5 L737.3 511.9 L738.5 512.3 L739.6 512.7 L740.8 513.1 L741.9 513.5 L743 513.9 L744.1 514.3 L745.2 514.7 L746.3 515.1 L747.3 515.5 L748.4 515.9 L749.5 516.3 L750.5 516.7 L751.6 517.1 L752.6 517.5 L753.7 517.9 L754.7 518.3 L755.8 518.7 L756.8 519.1 L757.9 519.5 L758.9 519.9 L760 520.3 L761.1 520.7 L762.2 521.1 L763.3 521.5 L764.4 521.9 L765.6 522.3 L766.7 522.7 L767.9 523.1 L769.1 523.5 L770.3 523.9 L771.5 524.3 L772.7 524.7 L774 525.1 L775.3 525.5 L776.6 525.9 L778 526.3 L779.4 526.7 L780.8 527.1 L782.3 527.5 L783.7 527.9 L785.3 528.3 L786.8 528.7 L788.4 529.1 L790 529.5 L791.7 529.9 L793.4 530.3 L795.1 530.7 L796.9 531.1 L798.7 531.5 L800.6 531.9 L802.5 532.3 L804.4 532.7 L806.4 533.1 L808.5 533.5 L810.6 533.9 L812.8 534.3 L815.1 534.7 L817.4 535.1 L819.8 535.5 L822.2 535.9 L824.8 536.3 L827.4 536.7 L830.1 537.1 L832.8 537.5 L835.7 537.9 L838.6 538.3 L841.7 538.7 L844.8 539.1 L848.3 539.5 L852.3 539.9 L856.6 540.3 L861.3 540.7 L866.1 541.1 L871.2 541.5 L876.3 541.9 L881.4 542.3 L886.4 542.7 L891.4 543.1 L896.1 543.5 L900.6 543.9 L905.4 544.3 L910.6 544.7 L916.1 545.1 L921.7 545.5 L927.2 545.9 L932.4 546.3 L937.3 546.7 L941.5 547.1 L945 547.5 L947.7 547.9 L949.2 548.3 L949.4 548.7 L944.7 549.1 L935.7 549.5 L924.3 549.9 L913 550.3 L903.7 550.7 L898.6 551.1 L895.3 551.5 L892.3 551.9 L889.6 552.3 L887.1 552.7 L884.9 553.1 L883 553.5 L881.1 553.9 L879.4 554.3 L877.8 554.7 L876.3 555.1 L874.8 555.5 L873.2 555.9 L871.7 556.3 L870 556.7 L868.3 557.1 L866.5 557.5 L864.8 557.9 L863 558.3 L861.2 558.7 L859.5 559.1 L857.8 559.5 L856.1 559.9 L854.5 560.3 L852.9 560.7 L851.4 561.1 L850 561.5 L848.7 561.9 L847.6 562.3 L846.5 562.7 L845.6 563.1 L844.8 563.5 L844.1 563.9 L843.6 564.3 L843.1 564.7 L842.6 565.1 L842.2 565.5 L841.7 565.9 L841.2 566.3 L840.8 566.7 L840.4 567.1 L840 567.5 L839.6 567.9 L839.2 568.3 L838.8 568.7 L838.4 569.1 L838.1 569.5 L837.8 569.9 L837.4 570.3 L837.1 570.7 L836.8 571.1 L836.6 571.5 L836.3 571.9 L836.1 572.3 L835.9 572.7 L835.7 573.1 L835.5 573.5 L835.3 573.9 L835.2 574.3 L835 574.7 L834.9 575.1 L834.8 575.5 L834.8 575.9 L834.7 576.3 L834.7 576.7 L834.7 577.1 L834.7 577.5 L834.8 577.9 L834.9 578.3 L835 578.7 L835.1 579.1 L835.3 579.5 L835.4 579.9 L835.6 580.3 L835.9 580.7 L836.1 581.1 L836.4 581.5 L836.6 581.9 L836.9 582.3 L837.2 582.7 L837.6 583.1 L837.9 583.5 L838.2 583.9 L838.6 584.3 L838.9 584.7 L839.3 585.1 L839.7 585.5 L840 585.9 L840.4 586.3 L840.8 586.7 L841.2 587.1 L841.5 587.5 L841.9 587.9 L842.3 588.3 L842.7 588.7 L843 589.1 L843.4 589.5 L843.8 589.9 L844.2 590.3 L844.6 590.7 L845.1 591.1 L845.5 591.5 L845.9 591.9 L846.4 592.3 L846.9 592.7 L847.4 593.1 L847.9 593.5 L848.5 593.9 L849 594.3 L849.6 594.7 L850.2 595.1 L850.8 595.5 L851.5 595.9 L852.2 596.3 L852.9 596.7 L853.6 597.1 L854.4 597.5 L855.2 597.9 L856 598.3 L856.8 598.7 L857.7 599.1 L858.7 599.5 L859.6 599.9 L860.6 600.3 L861.7 600.7 L862.8 601.1 L864.2 601.5 L866 601.9 L868.2 602.3 L870.6 602.7 L873.3 603.1 L876.1 603.5 L879.1 603.9 L882.1 604.3 L885.2 604.7 L888.2 605.1 L891.2 605.5 L894 605.9 L896.6 606.3 L899 606.7 L901.1 607.1 L903.4 607.5 L905.7 607.9 L908 608.3 L910.3 608.7 L912.5 609.1 L914.7 609.5 L916.8 609.9 L918.7 610.3 L920.5 610.7 L922 611.1 L923.4 611.5 L924.5 611.9 L925.3 612.3 L925.9 612.7 L926.5 613.1 L927.1 613.5 L927.6 613.9 L927.8 614.3 L928.4 614.7 L929 615.1 L930 615.5 L930.1 615.9 L930.4 616.3 L929.4 616.7 L930.5 617.1 L930.9 617.5 L933.1 617.9 L932.2 618.3 L932.1 618.7 L927.7 619.1 L930.6 619.5 L931.3 619.9 L933.9 620.3 L932.6 620.7 L932.3 621.1 L930.1 621.5 L931.4 621.9 L931.7 622.3 L938.9 622.7 L934.3 623.1 L933.2 623.5 L932 623.9 L932 624.3 L932 624.7 L932 625.1 L932 625.5 L932 625.9 L931.8 626.3 L931.9 626.7 L932 627.1 L939.4 627.5 L934.5 627.9 L933.2 628.3 L927.2 628.7 L930.4 629.1 L931.2 629.5 L937.8 629.9 L933.9 630.3 L933 630.7 L923.5 631.1 L929.2 631.5 L930.6 631.9 L933.1 632.3 L932.4 632.7 L932.2 633.1 L924 633.5 L929.3 633.9 L930.7 634.3 L933.2 634.7 L932.4 635.1 L932.2 635.5 L928.4 635.9 L930.8 636.3 L931.4 636.7 L937.3 637.1 L933.8 637.5 L932.9 637.9 L925.4 638.3 L929.8 638.7 L930.9 639.1 L933.3 639.5 L932.4 639.9 L932.2 640.3 L929.6 640.7 L931.3 641.1 L931.7 641.5 L932.1 641.9 L932 642.3 L932 642.7 L931.5 643.1 L931.9 643.5 L932 643.9 L932.7 644.3 L932 644.7 L932 645.1 L932 645.5 L933.9 645.9 L938.3 646.3 L943.7 646.7 L948.1 647.1 L950 647.5 L947.9 647.9 L943 648.3 L937 648.7 L932.1 649.1 L930 649.5 L930 649.9 L930 650.3 L930.1 650.7 L930.1 651.1 L930.3 651.5 L930.5 651.9 L930.8 652.3 L931.2 652.7 L931.7 653.1 L932.3 653.5 L933.1 653.9 L934 654.3 L935.1 654.7" stroke="#ff0000" stroke-width="3" stroke-dasharray="11 6 3 6"/>
</g>
<g id="k-labels" font-family="'Liberation Serif','Times New Roman',Times,serif">
<text x="108.5" y="231.5" fill="#5b2c8f" font-size="18" font-weight="bold" font-style="italic">Γ<tspan font-size="13.5" font-style="normal" dy="5">5</tspan></text>
<text x="262.5" y="226" fill="#5b2c8f" font-size="18" font-weight="bold" font-style="italic">X<tspan font-size="13.5" font-style="normal" dy="5">5</tspan></text>
<text x="410" y="226" fill="#5b2c8f" font-size="18" font-weight="bold" font-style="italic">M<tspan font-size="13.5" font-style="normal" dy="5">5</tspan></text>
<text x="108.5" y="378" fill="#548235" font-size="18" font-weight="bold" font-style="italic">Γ<tspan font-size="13.5" font-style="normal" dy="5">4</tspan></text>
<text x="263" y="376" fill="#548235" font-size="18" font-weight="bold" font-style="italic">X<tspan font-size="13.5" font-style="normal" dy="5">4</tspan></text>
<text x="419.5" y="376" fill="#548235" font-size="18" font-weight="bold" font-style="italic">M<tspan font-size="13.5" font-style="normal" dy="5">4</tspan></text>
<text x="113" y="539.6" fill="#000000" font-size="18" font-weight="bold" font-style="italic">Γ<tspan font-size="13.5" font-style="normal" dy="5">3</tspan></text>
<text x="262" y="536.5" fill="#000000" font-size="18" font-weight="bold" font-style="italic">X<tspan font-size="13.5" font-style="normal" dy="5">3</tspan></text>
<text x="413" y="538.2" fill="#000000" font-size="18" font-weight="bold" font-style="italic">M<tspan font-size="13.5" font-style="normal" dy="5">3</tspan></text>
<text x="112.5" y="567.8" fill="#bf9000" font-size="18" font-weight="bold" font-style="italic">Γ<tspan font-size="13.5" font-style="normal" dy="5">2</tspan></text>
<text x="247.5" y="574.7" fill="#bf9000" font-size="18" font-weight="bold" font-style="italic">X<tspan font-size="13.5" font-style="normal" dy="5">2</tspan></text>
<text x="378.5" y="575.8" fill="#bf9000" font-size="18" font-weight="bold" font-style="italic">M<tspan font-size="13.5" font-style="normal" dy="5">2</tspan></text>
<text x="108.8" y="600.8" fill="#ff0000" font-size="18" font-weight="bold" font-style="italic">Γ<tspan font-size="13.5" font-style="normal" dy="5">1</tspan></text>
<text x="267" y="599.8" fill="#ff0000" font-size="18" font-weight="bold" font-style="italic">X<tspan font-size="13.5" font-style="normal" dy="5">1</tspan></text>
<text x="417" y="594.4" fill="#ff0000" font-size="18" font-weight="bold" font-style="italic">M<tspan font-size="13.5" font-style="normal" dy="5">1</tspan></text>
</g>
<g id="frame" stroke="#000" stroke-width="2" fill="none" stroke-linecap="square">
<path d="M102 17.4 V655.5 H1016.5 V17.4 H102"/>
<path d="M559.5 17.4 V655.5"/>
<path d="M103 17.4 H558.5" stroke="#0000ff" stroke-opacity="0.55" stroke-linecap="butt"/>
</g>
<g id="legend" font-family="'Liberation Serif','Times New Roman',Times,serif" font-size="12" font-weight="bold" fill="#111">
<rect x="817.6" y="418.8" width="197.9" height="92.6" fill="#fff" stroke="#555" stroke-width="1"/>
<path d="M819.5 426.6 H848.7" stroke="#0000ff" stroke-width="2.6"/>
<rect x="819.5" y="436.3" width="29.2" height="13.2" fill="#ffcccc"/>
<path d="M819.5 457.8 H848.7" stroke="#000" stroke-width="2.6" stroke-dasharray="9 6.5 2.4 5.2 4.5 2"/>
<path d="M819.5 473 H848.7" stroke="#9400d3" stroke-width="2.6"/>
<path d="M819.5 488 H848.7" stroke="#ff0000" stroke-width="2.6" stroke-dasharray="13 9.5 3 9"/>
<rect x="819.5" y="496.7" width="29.2" height="13.2" fill="#c0c0c0"/>
<text x="851.5" y="431.1">Passband</text>
<text x="851.5" y="447.4">Band gaps</text>
<text x="851.5" y="462.3">Point load in the x-direction</text>
<text x="851.5" y="477.5">Linear load in the x-direction</text>
<text x="851.5" y="492.5">Body load in the x-direction</text>
<text x="851.5" y="507.8">Vibration attenuation regions</text>
</g>
<g id="tick-labels" font-family="'Liberation Serif','Times New Roman',Times,serif" font-size="27" fill="#000">
<text x="89.6" y="663.5" text-anchor="end">0</text>
<text x="89.6" y="535.9" text-anchor="end">200</text>
<text x="89.6" y="408.3" text-anchor="end">400</text>
<text x="89.6" y="280.6" text-anchor="end">600</text>
<text x="89.6" y="153" text-anchor="end">800</text>
<text x="89.6" y="25.4" text-anchor="end">1000</text>
<text x="642.3" y="689.2" text-anchor="middle">-400</text>
<text x="725.4" y="689.2" text-anchor="middle">-300</text>
<text x="808.5" y="689.2" text-anchor="middle">-200</text>
<text x="891.6" y="689.2" text-anchor="middle">-100</text>
<text x="974.7" y="689.2" text-anchor="middle">0</text>
</g>
<g id="k-ticks" font-family="'Liberation Serif','Times New Roman',Times,serif" font-size="33" font-style="italic" fill="#000" text-anchor="middle">
<text x="107.5" y="690.2">Γ</text>
<text x="254.8" y="690.2">X</text>
<text x="407.8" y="690.2">M</text>
<text x="559.2" y="690.2">Γ</text>
</g>
<g id="axis-titles" font-family="'Liberation Serif','Times New Roman',Times,serif" font-size="32.8" fill="#000" text-anchor="middle">
<text x="331" y="740">Wave vector <tspan font-weight="bold" font-style="italic">k</tspan></text>
<text x="789.2" y="741.6">Transmission loss <tspan font-style="italic">T</tspan> (dB)</text>
<text font-size="32.6" transform="translate(23.4 314.7) rotate(-90)">Frequency(Hz)</text>
</g>
<g id="annotations" font-family="'Liberation Serif','Times New Roman',Times,serif" font-size="20" fill="#111">
<text x="566.5" y="237.2">The widest bandgap</text>
<text x="566.5" y="581.6">The first bandgap</text>
<circle cx="967" cy="372.6" r="7.5" fill="none" stroke="#111" stroke-width="1.5"/>
<text x="967" y="376.7" font-family="'Liberation Sans',Arial,sans-serif" font-size="11.5" text-anchor="middle">2</text>
<circle cx="967" cy="576" r="7.5" fill="none" stroke="#111" stroke-width="1.5"/>
<text x="967" y="580.1" font-family="'Liberation Sans',Arial,sans-serif" font-size="11.5" text-anchor="middle">1</text>
</g>
</svg></body></html>
